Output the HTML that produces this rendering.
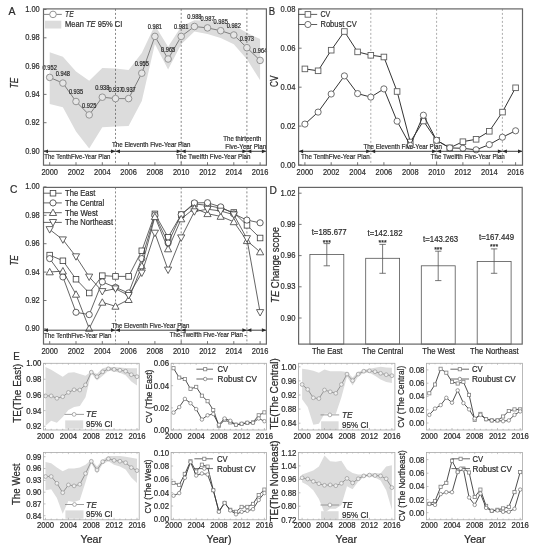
<!DOCTYPE html>
<html lang="en"><head><meta charset="utf-8"><title>Figure</title>
<style>html,body{margin:0;padding:0;background:#fff}svg{display:block}text{font-family:"Liberation Sans",Arial,Helvetica,sans-serif;fill:#2b2b2b;stroke:#2b2b2b;stroke-width:.22px}</style></head>
<body>
<svg width="535" height="550" viewBox="0 0 535 550">
<rect x="0" y="0" width="535" height="550" fill="#fff"/>
<polygon points="49.7,52.2 62.9,56.8 76.0,71.4 89.2,80.7 102.3,68.1 115.5,68.6 128.6,69.9 141.8,53.0 154.9,25.2 168.1,46.7 181.2,26.5 194.4,20.2 207.5,20.7 220.7,22.2 233.8,25.2 246.9,32.8 260.1,39.1 260.1,80.2 246.9,59.3 233.8,44.2 220.7,37.9 207.5,34.0 194.4,31.5 181.2,44.2 168.1,69.4 154.9,44.0 141.8,101.0 128.6,126.1 115.5,126.6 102.3,127.3 89.2,148.5 76.0,131.6 62.9,107.2 49.7,103.9" fill="#dcdcdc"/>
<line x1="115.5" y1="8.9" x2="115.5" y2="165.2" stroke="#555" stroke-width="0.7" stroke-dasharray="2 2"/>
<line x1="181.2" y1="8.9" x2="181.2" y2="165.2" stroke="#555" stroke-width="0.7" stroke-dasharray="2 2"/>
<line x1="246.9" y1="8.9" x2="246.9" y2="165.2" stroke="#555" stroke-width="0.7" stroke-dasharray="2 2"/>
<polyline points="49.7,77.4 62.9,83.1 76.0,101.5 89.2,114.9 102.3,97.2 115.5,98.6 128.6,98.6 141.8,73.2 154.9,36.4 168.1,59.0 181.2,36.4 194.4,26.5 207.5,27.9 220.7,30.7 233.8,35.0 246.9,47.7 260.1,60.4" fill="none" stroke="#747474" stroke-width="0.9"/>
<circle cx="49.7" cy="77.4" r="3.3" fill="#e6e6e6" stroke="#949494" stroke-width="1.0"/>
<circle cx="62.9" cy="83.1" r="3.3" fill="#e6e6e6" stroke="#949494" stroke-width="1.0"/>
<circle cx="76.0" cy="101.5" r="3.3" fill="#e6e6e6" stroke="#949494" stroke-width="1.0"/>
<circle cx="89.2" cy="114.9" r="3.3" fill="#e6e6e6" stroke="#949494" stroke-width="1.0"/>
<circle cx="102.3" cy="97.2" r="3.3" fill="#e6e6e6" stroke="#949494" stroke-width="1.0"/>
<circle cx="115.5" cy="98.6" r="3.3" fill="#e6e6e6" stroke="#949494" stroke-width="1.0"/>
<circle cx="128.6" cy="98.6" r="3.3" fill="#e6e6e6" stroke="#949494" stroke-width="1.0"/>
<circle cx="141.8" cy="73.2" r="3.3" fill="#e6e6e6" stroke="#949494" stroke-width="1.0"/>
<circle cx="154.9" cy="36.4" r="3.3" fill="#e6e6e6" stroke="#949494" stroke-width="1.0"/>
<circle cx="168.1" cy="59.0" r="3.3" fill="#e6e6e6" stroke="#949494" stroke-width="1.0"/>
<circle cx="181.2" cy="36.4" r="3.3" fill="#e6e6e6" stroke="#949494" stroke-width="1.0"/>
<circle cx="194.4" cy="26.5" r="3.3" fill="#e6e6e6" stroke="#949494" stroke-width="1.0"/>
<circle cx="207.5" cy="27.9" r="3.3" fill="#e6e6e6" stroke="#949494" stroke-width="1.0"/>
<circle cx="220.7" cy="30.7" r="3.3" fill="#e6e6e6" stroke="#949494" stroke-width="1.0"/>
<circle cx="233.8" cy="35.0" r="3.3" fill="#e6e6e6" stroke="#949494" stroke-width="1.0"/>
<circle cx="246.9" cy="47.7" r="3.3" fill="#e6e6e6" stroke="#949494" stroke-width="1.0"/>
<circle cx="260.1" cy="60.4" r="3.3" fill="#e6e6e6" stroke="#949494" stroke-width="1.0"/>
<text x="49.7" y="70.3" font-size="6.96" text-anchor="middle" textLength="14.2" lengthAdjust="spacingAndGlyphs" fill="#868686" stroke="#868686" stroke-width="0.05">0.952</text>
<text x="62.9" y="76.0" font-size="6.96" text-anchor="middle" textLength="14.2" lengthAdjust="spacingAndGlyphs" fill="#868686" stroke="#868686" stroke-width="0.05">0.948</text>
<text x="76.0" y="94.4" font-size="6.96" text-anchor="middle" textLength="14.2" lengthAdjust="spacingAndGlyphs" fill="#868686" stroke="#868686" stroke-width="0.05">0.935</text>
<text x="89.2" y="107.8" font-size="6.96" text-anchor="middle" textLength="14.2" lengthAdjust="spacingAndGlyphs" fill="#868686" stroke="#868686" stroke-width="0.05">0.925</text>
<text x="102.3" y="90.1" font-size="6.96" text-anchor="middle" textLength="14.2" lengthAdjust="spacingAndGlyphs" fill="#868686" stroke="#868686" stroke-width="0.05">0.938</text>
<text x="115.5" y="91.5" font-size="6.96" text-anchor="middle" textLength="14.2" lengthAdjust="spacingAndGlyphs" fill="#868686" stroke="#868686" stroke-width="0.05">0.937</text>
<text x="128.6" y="91.5" font-size="6.96" text-anchor="middle" textLength="14.2" lengthAdjust="spacingAndGlyphs" fill="#868686" stroke="#868686" stroke-width="0.05">0.937</text>
<text x="141.8" y="66.1" font-size="6.96" text-anchor="middle" textLength="14.2" lengthAdjust="spacingAndGlyphs" fill="#868686" stroke="#868686" stroke-width="0.05">0.955</text>
<text x="154.9" y="29.3" font-size="6.96" text-anchor="middle" textLength="14.2" lengthAdjust="spacingAndGlyphs" fill="#868686" stroke="#868686" stroke-width="0.05">0.981</text>
<text x="168.1" y="51.9" font-size="6.96" text-anchor="middle" textLength="14.2" lengthAdjust="spacingAndGlyphs" fill="#868686" stroke="#868686" stroke-width="0.05">0.965</text>
<text x="181.2" y="29.3" font-size="6.96" text-anchor="middle" textLength="14.2" lengthAdjust="spacingAndGlyphs" fill="#868686" stroke="#868686" stroke-width="0.05">0.981</text>
<text x="194.4" y="19.4" font-size="6.96" text-anchor="middle" textLength="14.2" lengthAdjust="spacingAndGlyphs" fill="#868686" stroke="#868686" stroke-width="0.05">0.988</text>
<text x="207.5" y="20.8" font-size="6.96" text-anchor="middle" textLength="14.2" lengthAdjust="spacingAndGlyphs" fill="#868686" stroke="#868686" stroke-width="0.05">0.987</text>
<text x="220.7" y="23.6" font-size="6.96" text-anchor="middle" textLength="14.2" lengthAdjust="spacingAndGlyphs" fill="#868686" stroke="#868686" stroke-width="0.05">0.985</text>
<text x="233.8" y="27.9" font-size="6.96" text-anchor="middle" textLength="14.2" lengthAdjust="spacingAndGlyphs" fill="#868686" stroke="#868686" stroke-width="0.05">0.982</text>
<text x="246.9" y="40.6" font-size="6.96" text-anchor="middle" textLength="14.2" lengthAdjust="spacingAndGlyphs" fill="#868686" stroke="#868686" stroke-width="0.05">0.973</text>
<text x="260.1" y="53.3" font-size="6.96" text-anchor="middle" textLength="14.2" lengthAdjust="spacingAndGlyphs" fill="#868686" stroke="#868686" stroke-width="0.05">0.964</text>
<line x1="43.5" y1="151.3" x2="115.5" y2="151.3" stroke="#2a2a2a" stroke-width="0.9"/>
<polygon points="43.5,151.3 48.0,149.4 48.0,153.2" fill="#2a2a2a"/>
<polygon points="115.5,151.3 111.0,149.4 111.0,153.2" fill="#2a2a2a"/>
<line x1="115.5" y1="151.3" x2="181.2" y2="151.3" stroke="#2a2a2a" stroke-width="0.9"/>
<polygon points="115.5,151.3 120.0,149.4 120.0,153.2" fill="#2a2a2a"/>
<polygon points="181.2,151.3 176.7,149.4 176.7,153.2" fill="#2a2a2a"/>
<line x1="181.2" y1="151.3" x2="246.9" y2="151.3" stroke="#2a2a2a" stroke-width="0.9"/>
<polygon points="181.2,151.3 185.7,149.4 185.7,153.2" fill="#2a2a2a"/>
<polygon points="246.9,151.3 242.4,149.4 242.4,153.2" fill="#2a2a2a"/>
<line x1="246.9" y1="151.3" x2="266.4" y2="151.3" stroke="#2a2a2a" stroke-width="0.9"/>
<polygon points="246.9,151.3 251.4,149.4 251.4,153.2" fill="#2a2a2a"/>
<polygon points="266.4,151.3 261.9,149.4 261.9,153.2" fill="#2a2a2a"/>
<text x="44.2" y="158.6" font-size="7.74" textLength="66.2" lengthAdjust="spacingAndGlyphs">The TenthFive-Year Plan</text>
<text x="112.0" y="147.2" font-size="7.74" textLength="78.5" lengthAdjust="spacingAndGlyphs">The Eleventh Five-Year Plan</text>
<text x="176.0" y="158.7" font-size="7.74" textLength="74.5" lengthAdjust="spacingAndGlyphs">The Twelfth Five-Year Plan</text>
<text x="223.3" y="141.2" font-size="7.74" textLength="38.0" lengthAdjust="spacingAndGlyphs">The thirteenth</text>
<text x="225.3" y="149.3" font-size="7.74" textLength="41.0" lengthAdjust="spacingAndGlyphs">Five-Year Plan</text>
<rect x="43.5" y="8.9" width="222.9" height="156.3" fill="none" stroke="#666666" stroke-width="1.2"/>
<line x1="43.5" y1="9.5" x2="46.5" y2="9.5" stroke="#666666" stroke-width="0.9"/>
<text x="39.8" y="12.0" font-size="9.6" text-anchor="end" textLength="14.6" lengthAdjust="spacingAndGlyphs">1.00</text>
<line x1="43.5" y1="37.8" x2="46.5" y2="37.8" stroke="#666666" stroke-width="0.9"/>
<text x="39.8" y="40.3" font-size="9.6" text-anchor="end" textLength="14.6" lengthAdjust="spacingAndGlyphs">0.98</text>
<line x1="43.5" y1="66.1" x2="46.5" y2="66.1" stroke="#666666" stroke-width="0.9"/>
<text x="39.8" y="68.6" font-size="9.6" text-anchor="end" textLength="14.6" lengthAdjust="spacingAndGlyphs">0.96</text>
<line x1="43.5" y1="94.4" x2="46.5" y2="94.4" stroke="#666666" stroke-width="0.9"/>
<text x="39.8" y="96.9" font-size="9.6" text-anchor="end" textLength="14.6" lengthAdjust="spacingAndGlyphs">0.94</text>
<line x1="43.5" y1="122.7" x2="46.5" y2="122.7" stroke="#666666" stroke-width="0.9"/>
<text x="39.8" y="125.2" font-size="9.6" text-anchor="end" textLength="14.6" lengthAdjust="spacingAndGlyphs">0.92</text>
<line x1="43.5" y1="151.0" x2="46.5" y2="151.0" stroke="#666666" stroke-width="0.9"/>
<text x="39.8" y="153.5" font-size="9.6" text-anchor="end" textLength="14.6" lengthAdjust="spacingAndGlyphs">0.90</text>
<line x1="49.7" y1="165.2" x2="49.7" y2="162.2" stroke="#666666" stroke-width="0.9"/>
<text x="49.7" y="174.7" font-size="9.6" text-anchor="middle" textLength="16.6" lengthAdjust="spacingAndGlyphs">2000</text>
<line x1="76.0" y1="165.2" x2="76.0" y2="162.2" stroke="#666666" stroke-width="0.9"/>
<text x="76.0" y="174.7" font-size="9.6" text-anchor="middle" textLength="16.6" lengthAdjust="spacingAndGlyphs">2002</text>
<line x1="102.3" y1="165.2" x2="102.3" y2="162.2" stroke="#666666" stroke-width="0.9"/>
<text x="102.3" y="174.7" font-size="9.6" text-anchor="middle" textLength="16.6" lengthAdjust="spacingAndGlyphs">2004</text>
<line x1="128.6" y1="165.2" x2="128.6" y2="162.2" stroke="#666666" stroke-width="0.9"/>
<text x="128.6" y="174.7" font-size="9.6" text-anchor="middle" textLength="16.6" lengthAdjust="spacingAndGlyphs">2006</text>
<line x1="154.9" y1="165.2" x2="154.9" y2="162.2" stroke="#666666" stroke-width="0.9"/>
<text x="154.9" y="174.7" font-size="9.6" text-anchor="middle" textLength="16.6" lengthAdjust="spacingAndGlyphs">2008</text>
<line x1="181.2" y1="165.2" x2="181.2" y2="162.2" stroke="#666666" stroke-width="0.9"/>
<text x="181.2" y="174.7" font-size="9.6" text-anchor="middle" textLength="16.6" lengthAdjust="spacingAndGlyphs">2010</text>
<line x1="207.5" y1="165.2" x2="207.5" y2="162.2" stroke="#666666" stroke-width="0.9"/>
<text x="207.5" y="174.7" font-size="9.6" text-anchor="middle" textLength="16.6" lengthAdjust="spacingAndGlyphs">2012</text>
<line x1="233.8" y1="165.2" x2="233.8" y2="162.2" stroke="#666666" stroke-width="0.9"/>
<text x="233.8" y="174.7" font-size="9.6" text-anchor="middle" textLength="16.6" lengthAdjust="spacingAndGlyphs">2014</text>
<line x1="260.1" y1="165.2" x2="260.1" y2="162.2" stroke="#666666" stroke-width="0.9"/>
<text x="260.1" y="174.7" font-size="9.6" text-anchor="middle" textLength="16.6" lengthAdjust="spacingAndGlyphs">2016</text>
<line x1="43.4" y1="14.4" x2="61.8" y2="14.4" stroke="#747474" stroke-width="0.9"/>
<circle cx="53.0" cy="14.4" r="3.3" fill="#fff" stroke="#949494" stroke-width="1.0"/>
<text x="65.1" y="17.3" font-size="9.6" textLength="8.6" lengthAdjust="spacingAndGlyphs" font-style="italic">TE</text>
<rect x="44.9" y="20.7" width="16.4" height="7.8" fill="#dcdcdc"/>
<text x="65.1" y="27.4" font-size="9.6" textLength="57.3" lengthAdjust="spacingAndGlyphs">Mean <tspan font-style="italic">TE</tspan> 95% CI</text>
<text x="8.4" y="14.5" font-size="11.76" textLength="7.0" lengthAdjust="spacingAndGlyphs" stroke-width="0.4">A</text>
<text x="18.3" y="83.0" font-size="11.04" text-anchor="middle" textLength="10.4" lengthAdjust="spacingAndGlyphs" font-style="italic" transform="rotate(-90 18.3 83.0)">TE</text>
<line x1="370.8" y1="8.9" x2="370.8" y2="165.2" stroke="#8a8a8a" stroke-width="0.7" stroke-dasharray="2 2"/>
<line x1="436.6" y1="8.9" x2="436.6" y2="165.2" stroke="#8a8a8a" stroke-width="0.7" stroke-dasharray="2 2"/>
<line x1="502.4" y1="8.9" x2="502.4" y2="165.2" stroke="#8a8a8a" stroke-width="0.7" stroke-dasharray="2 2"/>
<polyline points="304.9,68.9 318.1,70.8 331.2,50.2 344.4,31.5 357.6,51.9 370.8,55.2 383.9,57.0 397.1,91.4 410.3,142.0 423.4,121.0 436.6,140.3 449.8,147.9 462.9,141.6 476.1,139.3 489.3,131.3 502.4,112.1 515.6,87.7" fill="none" stroke="#333" stroke-width="1.0"/>
<rect x="302.1" y="66.1" width="5.6" height="5.6" fill="#fff" stroke="#5e5e5e" stroke-width="0.9"/>
<rect x="315.3" y="68.0" width="5.6" height="5.6" fill="#fff" stroke="#5e5e5e" stroke-width="0.9"/>
<rect x="328.4" y="47.4" width="5.6" height="5.6" fill="#fff" stroke="#5e5e5e" stroke-width="0.9"/>
<rect x="341.6" y="28.7" width="5.6" height="5.6" fill="#fff" stroke="#5e5e5e" stroke-width="0.9"/>
<rect x="354.8" y="49.1" width="5.6" height="5.6" fill="#fff" stroke="#5e5e5e" stroke-width="0.9"/>
<rect x="368.0" y="52.5" width="5.6" height="5.6" fill="#fff" stroke="#5e5e5e" stroke-width="0.9"/>
<rect x="381.1" y="54.2" width="5.6" height="5.6" fill="#fff" stroke="#5e5e5e" stroke-width="0.9"/>
<rect x="394.3" y="88.7" width="5.6" height="5.6" fill="#fff" stroke="#5e5e5e" stroke-width="0.9"/>
<rect x="407.5" y="139.2" width="5.6" height="5.6" fill="#fff" stroke="#5e5e5e" stroke-width="0.9"/>
<rect x="420.6" y="118.2" width="5.6" height="5.6" fill="#fff" stroke="#5e5e5e" stroke-width="0.9"/>
<rect x="433.8" y="137.5" width="5.6" height="5.6" fill="#fff" stroke="#5e5e5e" stroke-width="0.9"/>
<rect x="447.0" y="145.1" width="5.6" height="5.6" fill="#fff" stroke="#5e5e5e" stroke-width="0.9"/>
<rect x="460.1" y="138.9" width="5.6" height="5.6" fill="#fff" stroke="#5e5e5e" stroke-width="0.9"/>
<rect x="473.3" y="136.5" width="5.6" height="5.6" fill="#fff" stroke="#5e5e5e" stroke-width="0.9"/>
<rect x="486.5" y="128.5" width="5.6" height="5.6" fill="#fff" stroke="#5e5e5e" stroke-width="0.9"/>
<rect x="499.7" y="109.3" width="5.6" height="5.6" fill="#fff" stroke="#5e5e5e" stroke-width="0.9"/>
<rect x="512.8" y="85.0" width="5.6" height="5.6" fill="#fff" stroke="#5e5e5e" stroke-width="0.9"/>
<polyline points="304.9,124.1 318.1,112.1 331.2,94.0 344.4,75.9 357.6,93.6 370.8,97.1 383.9,88.9 397.1,121.2 410.3,145.5 423.4,115.2 436.6,140.3 449.8,147.9 462.9,148.3 476.1,149.8 489.3,144.6 502.4,137.2 515.6,130.8" fill="none" stroke="#333" stroke-width="1.0"/>
<circle cx="304.9" cy="124.1" r="3.1" fill="#fff" stroke="#5e5e5e" stroke-width="0.9"/>
<circle cx="318.1" cy="112.1" r="3.1" fill="#fff" stroke="#5e5e5e" stroke-width="0.9"/>
<circle cx="331.2" cy="94.0" r="3.1" fill="#fff" stroke="#5e5e5e" stroke-width="0.9"/>
<circle cx="344.4" cy="75.9" r="3.1" fill="#fff" stroke="#5e5e5e" stroke-width="0.9"/>
<circle cx="357.6" cy="93.6" r="3.1" fill="#fff" stroke="#5e5e5e" stroke-width="0.9"/>
<circle cx="370.8" cy="97.1" r="3.1" fill="#fff" stroke="#5e5e5e" stroke-width="0.9"/>
<circle cx="383.9" cy="88.9" r="3.1" fill="#fff" stroke="#5e5e5e" stroke-width="0.9"/>
<circle cx="397.1" cy="121.2" r="3.1" fill="#fff" stroke="#5e5e5e" stroke-width="0.9"/>
<circle cx="410.3" cy="145.5" r="3.1" fill="#fff" stroke="#5e5e5e" stroke-width="0.9"/>
<circle cx="423.4" cy="115.2" r="3.1" fill="#fff" stroke="#5e5e5e" stroke-width="0.9"/>
<circle cx="436.6" cy="140.3" r="3.1" fill="#fff" stroke="#5e5e5e" stroke-width="0.9"/>
<circle cx="449.8" cy="147.9" r="3.1" fill="#fff" stroke="#5e5e5e" stroke-width="0.9"/>
<circle cx="462.9" cy="148.3" r="3.1" fill="#fff" stroke="#5e5e5e" stroke-width="0.9"/>
<circle cx="476.1" cy="149.8" r="3.1" fill="#fff" stroke="#5e5e5e" stroke-width="0.9"/>
<circle cx="489.3" cy="144.6" r="3.1" fill="#fff" stroke="#5e5e5e" stroke-width="0.9"/>
<circle cx="502.4" cy="137.2" r="3.1" fill="#fff" stroke="#5e5e5e" stroke-width="0.9"/>
<circle cx="515.6" cy="130.8" r="3.1" fill="#fff" stroke="#5e5e5e" stroke-width="0.9"/>
<line x1="298.6" y1="151.3" x2="370.8" y2="151.3" stroke="#2a2a2a" stroke-width="0.9"/>
<polygon points="298.6,151.3 303.1,149.4 303.1,153.2" fill="#2a2a2a"/>
<polygon points="370.8,151.3 366.2,149.4 366.2,153.2" fill="#2a2a2a"/>
<line x1="370.8" y1="151.3" x2="436.6" y2="151.3" stroke="#2a2a2a" stroke-width="0.9"/>
<polygon points="370.8,151.3 375.2,149.4 375.2,153.2" fill="#2a2a2a"/>
<polygon points="436.6,151.3 432.1,149.4 432.1,153.2" fill="#2a2a2a"/>
<line x1="436.6" y1="151.3" x2="502.4" y2="151.3" stroke="#2a2a2a" stroke-width="0.9"/>
<polygon points="436.6,151.3 441.1,149.4 441.1,153.2" fill="#2a2a2a"/>
<polygon points="502.4,151.3 497.9,149.4 497.9,153.2" fill="#2a2a2a"/>
<line x1="502.4" y1="151.3" x2="522.5" y2="151.3" stroke="#2a2a2a" stroke-width="0.9"/>
<polygon points="502.4,151.3 506.9,149.4 506.9,153.2" fill="#2a2a2a"/>
<polygon points="522.5,151.3 518.0,149.4 518.0,153.2" fill="#2a2a2a"/>
<text x="301.1" y="159.0" font-size="7.74" textLength="68.6" lengthAdjust="spacingAndGlyphs">The TenthFive-Year Plan</text>
<text x="363.4" y="148.6" font-size="7.74" textLength="78.6" lengthAdjust="spacingAndGlyphs">The Eleventh Five-Year Plan</text>
<text x="430.8" y="158.7" font-size="7.74" textLength="74.0" lengthAdjust="spacingAndGlyphs">The Twelfth Five-Year Plan</text>
<rect x="298.6" y="8.9" width="223.9" height="156.3" fill="none" stroke="#666666" stroke-width="1.2"/>
<line x1="298.6" y1="9.3" x2="301.6" y2="9.3" stroke="#666666" stroke-width="0.9"/>
<text x="295.4" y="11.8" font-size="9.6" text-anchor="end" textLength="14.8" lengthAdjust="spacingAndGlyphs">0.08</text>
<line x1="298.6" y1="48.2" x2="301.6" y2="48.2" stroke="#666666" stroke-width="0.9"/>
<text x="295.4" y="50.7" font-size="9.6" text-anchor="end" textLength="14.8" lengthAdjust="spacingAndGlyphs">0.06</text>
<line x1="298.6" y1="87.2" x2="301.6" y2="87.2" stroke="#666666" stroke-width="0.9"/>
<text x="295.4" y="89.7" font-size="9.6" text-anchor="end" textLength="14.8" lengthAdjust="spacingAndGlyphs">0.04</text>
<line x1="298.6" y1="126.1" x2="301.6" y2="126.1" stroke="#666666" stroke-width="0.9"/>
<text x="295.4" y="128.6" font-size="9.6" text-anchor="end" textLength="14.8" lengthAdjust="spacingAndGlyphs">0.02</text>
<line x1="298.6" y1="165.0" x2="301.6" y2="165.0" stroke="#666666" stroke-width="0.9"/>
<text x="295.4" y="167.5" font-size="9.6" text-anchor="end" textLength="14.8" lengthAdjust="spacingAndGlyphs">0.00</text>
<line x1="304.9" y1="165.2" x2="304.9" y2="162.2" stroke="#666666" stroke-width="0.9"/>
<text x="304.9" y="174.7" font-size="9.6" text-anchor="middle" textLength="16.6" lengthAdjust="spacingAndGlyphs">2000</text>
<line x1="331.2" y1="165.2" x2="331.2" y2="162.2" stroke="#666666" stroke-width="0.9"/>
<text x="331.2" y="174.7" font-size="9.6" text-anchor="middle" textLength="16.6" lengthAdjust="spacingAndGlyphs">2002</text>
<line x1="357.6" y1="165.2" x2="357.6" y2="162.2" stroke="#666666" stroke-width="0.9"/>
<text x="357.6" y="174.7" font-size="9.6" text-anchor="middle" textLength="16.6" lengthAdjust="spacingAndGlyphs">2004</text>
<line x1="383.9" y1="165.2" x2="383.9" y2="162.2" stroke="#666666" stroke-width="0.9"/>
<text x="383.9" y="174.7" font-size="9.6" text-anchor="middle" textLength="16.6" lengthAdjust="spacingAndGlyphs">2006</text>
<line x1="410.3" y1="165.2" x2="410.3" y2="162.2" stroke="#666666" stroke-width="0.9"/>
<text x="410.3" y="174.7" font-size="9.6" text-anchor="middle" textLength="16.6" lengthAdjust="spacingAndGlyphs">2008</text>
<line x1="436.6" y1="165.2" x2="436.6" y2="162.2" stroke="#666666" stroke-width="0.9"/>
<text x="436.6" y="174.7" font-size="9.6" text-anchor="middle" textLength="16.6" lengthAdjust="spacingAndGlyphs">2010</text>
<line x1="462.9" y1="165.2" x2="462.9" y2="162.2" stroke="#666666" stroke-width="0.9"/>
<text x="462.9" y="174.7" font-size="9.6" text-anchor="middle" textLength="16.6" lengthAdjust="spacingAndGlyphs">2012</text>
<line x1="489.3" y1="165.2" x2="489.3" y2="162.2" stroke="#666666" stroke-width="0.9"/>
<text x="489.3" y="174.7" font-size="9.6" text-anchor="middle" textLength="16.6" lengthAdjust="spacingAndGlyphs">2014</text>
<line x1="515.6" y1="165.2" x2="515.6" y2="162.2" stroke="#666666" stroke-width="0.9"/>
<text x="515.6" y="174.7" font-size="9.6" text-anchor="middle" textLength="16.6" lengthAdjust="spacingAndGlyphs">2016</text>
<line x1="298.6" y1="14.4" x2="317.2" y2="14.4" stroke="#333" stroke-width="0.8"/>
<rect x="305.1" y="11.6" width="5.6" height="5.6" fill="#fff" stroke="#5e5e5e" stroke-width="0.9"/>
<text x="320.5" y="17.3" font-size="9.6" textLength="9.8" lengthAdjust="spacingAndGlyphs">CV</text>
<line x1="298.6" y1="24.5" x2="317.2" y2="24.5" stroke="#333" stroke-width="0.8"/>
<circle cx="307.9" cy="24.5" r="3.1" fill="#fff" stroke="#5e5e5e" stroke-width="0.9"/>
<text x="320.5" y="27.4" font-size="9.6" textLength="36.2" lengthAdjust="spacingAndGlyphs">Robust CV</text>
<text x="268.8" y="14.5" font-size="11.76" textLength="6.4" lengthAdjust="spacingAndGlyphs" stroke-width="0.4">B</text>
<text x="278.4" y="81.3" font-size="10.08" text-anchor="middle" textLength="11.5" lengthAdjust="spacingAndGlyphs" transform="rotate(-90 278.4 81.3)">CV</text>
<line x1="115.5" y1="187.4" x2="115.5" y2="344.1" stroke="#555" stroke-width="0.7" stroke-dasharray="2 2"/>
<line x1="181.2" y1="187.4" x2="181.2" y2="344.1" stroke="#555" stroke-width="0.7" stroke-dasharray="2 2"/>
<line x1="246.9" y1="187.4" x2="246.9" y2="344.1" stroke="#555" stroke-width="0.7" stroke-dasharray="2 2"/>
<polyline points="49.7,255.1 62.9,260.7 76.0,279.2 89.2,293.0 102.3,275.6 115.5,276.4 128.6,276.4 141.8,250.8 154.9,213.9 168.1,237.3 181.2,214.6 194.4,203.9 207.5,205.4 220.7,208.2 233.8,212.5 246.9,225.2 260.1,238.0" fill="none" stroke="#3d3d3d" stroke-width="0.8"/>
<rect x="46.9" y="252.3" width="5.6" height="5.6" fill="#fff" stroke="#3d3d3d" stroke-width="0.8"/>
<rect x="60.1" y="258.0" width="5.6" height="5.6" fill="#fff" stroke="#3d3d3d" stroke-width="0.8"/>
<rect x="73.2" y="276.4" width="5.6" height="5.6" fill="#fff" stroke="#3d3d3d" stroke-width="0.8"/>
<rect x="86.4" y="290.2" width="5.6" height="5.6" fill="#fff" stroke="#3d3d3d" stroke-width="0.8"/>
<rect x="99.5" y="272.9" width="5.6" height="5.6" fill="#fff" stroke="#3d3d3d" stroke-width="0.8"/>
<rect x="112.7" y="273.6" width="5.6" height="5.6" fill="#fff" stroke="#3d3d3d" stroke-width="0.8"/>
<rect x="125.8" y="273.6" width="5.6" height="5.6" fill="#fff" stroke="#3d3d3d" stroke-width="0.8"/>
<rect x="139.0" y="248.0" width="5.6" height="5.6" fill="#fff" stroke="#3d3d3d" stroke-width="0.8"/>
<rect x="152.1" y="211.1" width="5.6" height="5.6" fill="#fff" stroke="#3d3d3d" stroke-width="0.8"/>
<rect x="165.3" y="234.5" width="5.6" height="5.6" fill="#fff" stroke="#3d3d3d" stroke-width="0.8"/>
<rect x="178.4" y="211.8" width="5.6" height="5.6" fill="#fff" stroke="#3d3d3d" stroke-width="0.8"/>
<rect x="191.6" y="201.2" width="5.6" height="5.6" fill="#fff" stroke="#3d3d3d" stroke-width="0.8"/>
<rect x="204.7" y="202.6" width="5.6" height="5.6" fill="#fff" stroke="#3d3d3d" stroke-width="0.8"/>
<rect x="217.9" y="205.4" width="5.6" height="5.6" fill="#fff" stroke="#3d3d3d" stroke-width="0.8"/>
<rect x="231.0" y="209.7" width="5.6" height="5.6" fill="#fff" stroke="#3d3d3d" stroke-width="0.8"/>
<rect x="244.2" y="222.5" width="5.6" height="5.6" fill="#fff" stroke="#3d3d3d" stroke-width="0.8"/>
<rect x="257.3" y="235.2" width="5.6" height="5.6" fill="#fff" stroke="#3d3d3d" stroke-width="0.8"/>
<polyline points="49.7,258.6 62.9,276.9 76.0,312.3 89.2,314.6 102.3,281.9 115.5,287.4 128.6,293.0 141.8,258.6 154.9,215.3 168.1,243.0 181.2,214.6 194.4,202.9 207.5,202.7 220.7,206.9 233.8,213.9 246.9,220.1 260.1,222.8" fill="none" stroke="#3d3d3d" stroke-width="0.8"/>
<circle cx="49.7" cy="258.6" r="3.1" fill="#fff" stroke="#3d3d3d" stroke-width="0.8"/>
<circle cx="62.9" cy="276.9" r="3.1" fill="#fff" stroke="#3d3d3d" stroke-width="0.8"/>
<circle cx="76.0" cy="312.3" r="3.1" fill="#fff" stroke="#3d3d3d" stroke-width="0.8"/>
<circle cx="89.2" cy="314.6" r="3.1" fill="#fff" stroke="#3d3d3d" stroke-width="0.8"/>
<circle cx="102.3" cy="281.9" r="3.1" fill="#fff" stroke="#3d3d3d" stroke-width="0.8"/>
<circle cx="115.5" cy="287.4" r="3.1" fill="#fff" stroke="#3d3d3d" stroke-width="0.8"/>
<circle cx="128.6" cy="293.0" r="3.1" fill="#fff" stroke="#3d3d3d" stroke-width="0.8"/>
<circle cx="141.8" cy="258.6" r="3.1" fill="#fff" stroke="#3d3d3d" stroke-width="0.8"/>
<circle cx="154.9" cy="215.3" r="3.1" fill="#fff" stroke="#3d3d3d" stroke-width="0.8"/>
<circle cx="168.1" cy="243.0" r="3.1" fill="#fff" stroke="#3d3d3d" stroke-width="0.8"/>
<circle cx="181.2" cy="214.6" r="3.1" fill="#fff" stroke="#3d3d3d" stroke-width="0.8"/>
<circle cx="194.4" cy="202.9" r="3.1" fill="#fff" stroke="#3d3d3d" stroke-width="0.8"/>
<circle cx="207.5" cy="202.7" r="3.1" fill="#fff" stroke="#3d3d3d" stroke-width="0.8"/>
<circle cx="220.7" cy="206.9" r="3.1" fill="#fff" stroke="#3d3d3d" stroke-width="0.8"/>
<circle cx="233.8" cy="213.9" r="3.1" fill="#fff" stroke="#3d3d3d" stroke-width="0.8"/>
<circle cx="246.9" cy="220.1" r="3.1" fill="#fff" stroke="#3d3d3d" stroke-width="0.8"/>
<circle cx="260.1" cy="222.8" r="3.1" fill="#fff" stroke="#3d3d3d" stroke-width="0.8"/>
<polyline points="49.7,272.0 62.9,271.1 76.0,294.4 89.2,328.5 102.3,302.3 115.5,306.3 128.6,299.6 141.8,266.0 154.9,216.7 168.1,249.0 181.2,219.0 194.4,208.2 207.5,213.7 220.7,216.4 233.8,221.8 246.9,240.7 260.1,251.9" fill="none" stroke="#3d3d3d" stroke-width="0.8"/>
<polygon points="49.7,268.4 46.1,274.8 53.3,274.8" fill="#fff" stroke="#3d3d3d" stroke-width="0.8"/>
<polygon points="62.9,267.5 59.3,274.0 66.4,274.0" fill="#fff" stroke="#3d3d3d" stroke-width="0.8"/>
<polygon points="76.0,290.8 72.4,297.2 79.6,297.2" fill="#fff" stroke="#3d3d3d" stroke-width="0.8"/>
<polygon points="89.2,324.9 85.6,331.3 92.7,331.3" fill="#fff" stroke="#3d3d3d" stroke-width="0.8"/>
<polygon points="102.3,298.8 98.7,305.2 105.9,305.2" fill="#fff" stroke="#3d3d3d" stroke-width="0.8"/>
<polygon points="115.5,302.8 111.9,309.2 119.0,309.2" fill="#fff" stroke="#3d3d3d" stroke-width="0.8"/>
<polygon points="128.6,296.1 125.0,302.5 132.2,302.5" fill="#fff" stroke="#3d3d3d" stroke-width="0.8"/>
<polygon points="141.8,262.4 138.2,268.8 145.3,268.8" fill="#fff" stroke="#3d3d3d" stroke-width="0.8"/>
<polygon points="154.9,213.2 151.3,219.6 158.5,219.6" fill="#fff" stroke="#3d3d3d" stroke-width="0.8"/>
<polygon points="168.1,245.4 164.5,251.8 171.6,251.8" fill="#fff" stroke="#3d3d3d" stroke-width="0.8"/>
<polygon points="181.2,215.4 177.6,221.8 184.8,221.8" fill="#fff" stroke="#3d3d3d" stroke-width="0.8"/>
<polygon points="194.4,204.6 190.8,211.1 197.9,211.1" fill="#fff" stroke="#3d3d3d" stroke-width="0.8"/>
<polygon points="207.5,210.2 203.9,216.6 211.1,216.6" fill="#fff" stroke="#3d3d3d" stroke-width="0.8"/>
<polygon points="220.7,212.9 217.1,219.3 224.2,219.3" fill="#fff" stroke="#3d3d3d" stroke-width="0.8"/>
<polygon points="233.8,218.3 230.2,224.7 237.4,224.7" fill="#fff" stroke="#3d3d3d" stroke-width="0.8"/>
<polygon points="246.9,237.2 243.4,243.6 250.5,243.6" fill="#fff" stroke="#3d3d3d" stroke-width="0.8"/>
<polygon points="260.1,248.4 256.5,254.8 263.7,254.8" fill="#fff" stroke="#3d3d3d" stroke-width="0.8"/>
<polyline points="49.7,229.5 62.9,239.7 76.0,256.6 89.2,276.9 102.3,291.4 115.5,288.7 128.6,295.4 141.8,273.0 154.9,233.0 168.1,270.0 181.2,237.7 194.4,211.6 207.5,209.2 220.7,211.0 233.8,214.7 246.9,238.6 260.1,312.4" fill="none" stroke="#3d3d3d" stroke-width="0.8"/>
<polygon points="49.7,233.1 46.1,226.6 53.3,226.6" fill="#fff" stroke="#3d3d3d" stroke-width="0.8"/>
<polygon points="62.9,243.3 59.3,236.9 66.4,236.9" fill="#fff" stroke="#3d3d3d" stroke-width="0.8"/>
<polygon points="76.0,260.2 72.4,253.8 79.6,253.8" fill="#fff" stroke="#3d3d3d" stroke-width="0.8"/>
<polygon points="89.2,280.5 85.6,274.1 92.7,274.1" fill="#fff" stroke="#3d3d3d" stroke-width="0.8"/>
<polygon points="102.3,295.0 98.7,288.6 105.9,288.6" fill="#fff" stroke="#3d3d3d" stroke-width="0.8"/>
<polygon points="115.5,292.3 111.9,285.9 119.0,285.9" fill="#fff" stroke="#3d3d3d" stroke-width="0.8"/>
<polygon points="128.6,299.0 125.0,292.5 132.2,292.5" fill="#fff" stroke="#3d3d3d" stroke-width="0.8"/>
<polygon points="141.8,276.5 138.2,270.1 145.3,270.1" fill="#fff" stroke="#3d3d3d" stroke-width="0.8"/>
<polygon points="154.9,236.6 151.3,230.2 158.5,230.2" fill="#fff" stroke="#3d3d3d" stroke-width="0.8"/>
<polygon points="168.1,273.5 164.5,267.1 171.6,267.1" fill="#fff" stroke="#3d3d3d" stroke-width="0.8"/>
<polygon points="181.2,241.3 177.6,234.9 184.8,234.9" fill="#fff" stroke="#3d3d3d" stroke-width="0.8"/>
<polygon points="194.4,215.2 190.8,208.8 197.9,208.8" fill="#fff" stroke="#3d3d3d" stroke-width="0.8"/>
<polygon points="207.5,212.8 203.9,206.3 211.1,206.3" fill="#fff" stroke="#3d3d3d" stroke-width="0.8"/>
<polygon points="220.7,214.6 217.1,208.2 224.2,208.2" fill="#fff" stroke="#3d3d3d" stroke-width="0.8"/>
<polygon points="233.8,218.3 230.2,211.9 237.4,211.9" fill="#fff" stroke="#3d3d3d" stroke-width="0.8"/>
<polygon points="246.9,242.2 243.4,235.7 250.5,235.7" fill="#fff" stroke="#3d3d3d" stroke-width="0.8"/>
<polygon points="260.1,316.0 256.5,309.6 263.7,309.6" fill="#fff" stroke="#3d3d3d" stroke-width="0.8"/>
<line x1="43.5" y1="330.2" x2="115.5" y2="330.2" stroke="#2a2a2a" stroke-width="0.9"/>
<polygon points="43.5,330.2 48.0,328.3 48.0,332.1" fill="#2a2a2a"/>
<polygon points="115.5,330.2 111.0,328.3 111.0,332.1" fill="#2a2a2a"/>
<line x1="115.5" y1="330.2" x2="181.2" y2="330.2" stroke="#2a2a2a" stroke-width="0.9"/>
<polygon points="115.5,330.2 120.0,328.3 120.0,332.1" fill="#2a2a2a"/>
<polygon points="181.2,330.2 176.7,328.3 176.7,332.1" fill="#2a2a2a"/>
<line x1="181.2" y1="330.2" x2="246.9" y2="330.2" stroke="#2a2a2a" stroke-width="0.9"/>
<polygon points="181.2,330.2 185.7,328.3 185.7,332.1" fill="#2a2a2a"/>
<polygon points="246.9,330.2 242.4,328.3 242.4,332.1" fill="#2a2a2a"/>
<line x1="246.9" y1="330.2" x2="266.4" y2="330.2" stroke="#2a2a2a" stroke-width="0.9"/>
<polygon points="246.9,330.2 251.4,328.3 251.4,332.1" fill="#2a2a2a"/>
<polygon points="266.4,330.2 261.9,328.3 261.9,332.1" fill="#2a2a2a"/>
<text x="44.0" y="338.0" font-size="7.74" textLength="67.4" lengthAdjust="spacingAndGlyphs">The TenthFive-Year Plan</text>
<text x="111.8" y="328.4" font-size="7.74" textLength="77.6" lengthAdjust="spacingAndGlyphs">The Eleventh Five-Year Plan</text>
<text x="169.8" y="337.4" font-size="7.74" textLength="76.8" lengthAdjust="spacingAndGlyphs">The-Twelfth Five-Year Plan -</text>
<rect x="43.5" y="187.4" width="222.9" height="156.7" fill="none" stroke="#666666" stroke-width="1.2"/>
<line x1="43.5" y1="186.9" x2="46.5" y2="186.9" stroke="#666666" stroke-width="0.9"/>
<text x="39.8" y="189.4" font-size="9.6" text-anchor="end" textLength="14.6" lengthAdjust="spacingAndGlyphs">1.00</text>
<line x1="43.5" y1="215.3" x2="46.5" y2="215.3" stroke="#666666" stroke-width="0.9"/>
<text x="39.8" y="217.8" font-size="9.6" text-anchor="end" textLength="14.6" lengthAdjust="spacingAndGlyphs">0.98</text>
<line x1="43.5" y1="243.7" x2="46.5" y2="243.7" stroke="#666666" stroke-width="0.9"/>
<text x="39.8" y="246.2" font-size="9.6" text-anchor="end" textLength="14.6" lengthAdjust="spacingAndGlyphs">0.96</text>
<line x1="43.5" y1="272.1" x2="46.5" y2="272.1" stroke="#666666" stroke-width="0.9"/>
<text x="39.8" y="274.6" font-size="9.6" text-anchor="end" textLength="14.6" lengthAdjust="spacingAndGlyphs">0.94</text>
<line x1="43.5" y1="300.5" x2="46.5" y2="300.5" stroke="#666666" stroke-width="0.9"/>
<text x="39.8" y="303.0" font-size="9.6" text-anchor="end" textLength="14.6" lengthAdjust="spacingAndGlyphs">0.92</text>
<line x1="43.5" y1="328.9" x2="46.5" y2="328.9" stroke="#666666" stroke-width="0.9"/>
<text x="39.8" y="331.4" font-size="9.6" text-anchor="end" textLength="14.6" lengthAdjust="spacingAndGlyphs">0.90</text>
<line x1="49.7" y1="344.1" x2="49.7" y2="341.1" stroke="#666666" stroke-width="0.9"/>
<text x="49.7" y="353.7" font-size="9.6" text-anchor="middle" textLength="16.6" lengthAdjust="spacingAndGlyphs">2000</text>
<line x1="76.0" y1="344.1" x2="76.0" y2="341.1" stroke="#666666" stroke-width="0.9"/>
<text x="76.0" y="353.7" font-size="9.6" text-anchor="middle" textLength="16.6" lengthAdjust="spacingAndGlyphs">2002</text>
<line x1="102.3" y1="344.1" x2="102.3" y2="341.1" stroke="#666666" stroke-width="0.9"/>
<text x="102.3" y="353.7" font-size="9.6" text-anchor="middle" textLength="16.6" lengthAdjust="spacingAndGlyphs">2004</text>
<line x1="128.6" y1="344.1" x2="128.6" y2="341.1" stroke="#666666" stroke-width="0.9"/>
<text x="128.6" y="353.7" font-size="9.6" text-anchor="middle" textLength="16.6" lengthAdjust="spacingAndGlyphs">2006</text>
<line x1="154.9" y1="344.1" x2="154.9" y2="341.1" stroke="#666666" stroke-width="0.9"/>
<text x="154.9" y="353.7" font-size="9.6" text-anchor="middle" textLength="16.6" lengthAdjust="spacingAndGlyphs">2008</text>
<line x1="181.2" y1="344.1" x2="181.2" y2="341.1" stroke="#666666" stroke-width="0.9"/>
<text x="181.2" y="353.7" font-size="9.6" text-anchor="middle" textLength="16.6" lengthAdjust="spacingAndGlyphs">2010</text>
<line x1="207.5" y1="344.1" x2="207.5" y2="341.1" stroke="#666666" stroke-width="0.9"/>
<text x="207.5" y="353.7" font-size="9.6" text-anchor="middle" textLength="16.6" lengthAdjust="spacingAndGlyphs">2012</text>
<line x1="233.8" y1="344.1" x2="233.8" y2="341.1" stroke="#666666" stroke-width="0.9"/>
<text x="233.8" y="353.7" font-size="9.6" text-anchor="middle" textLength="16.6" lengthAdjust="spacingAndGlyphs">2014</text>
<line x1="260.1" y1="344.1" x2="260.1" y2="341.1" stroke="#666666" stroke-width="0.9"/>
<text x="260.1" y="353.7" font-size="9.6" text-anchor="middle" textLength="16.6" lengthAdjust="spacingAndGlyphs">2016</text>
<line x1="43.4" y1="193.2" x2="61.8" y2="193.2" stroke="#3d3d3d" stroke-width="0.8"/>
<rect x="50.2" y="190.4" width="5.6" height="5.6" fill="#fff" stroke="#3d3d3d" stroke-width="0.8"/>
<text x="65.1" y="196.1" font-size="9.6" textLength="30.3" lengthAdjust="spacingAndGlyphs">The East</text>
<line x1="43.4" y1="202.9" x2="61.8" y2="202.9" stroke="#3d3d3d" stroke-width="0.8"/>
<circle cx="53.0" cy="202.9" r="3.1" fill="#fff" stroke="#3d3d3d" stroke-width="0.8"/>
<text x="65.1" y="205.8" font-size="9.6" textLength="39.1" lengthAdjust="spacingAndGlyphs">The Central</text>
<line x1="43.4" y1="212.7" x2="61.8" y2="212.7" stroke="#3d3d3d" stroke-width="0.8"/>
<polygon points="53.0,209.1 49.4,215.5 56.6,215.5" fill="#fff" stroke="#3d3d3d" stroke-width="0.8"/>
<text x="65.1" y="215.6" font-size="9.6" textLength="32.8" lengthAdjust="spacingAndGlyphs">The West</text>
<line x1="43.4" y1="222.4" x2="61.8" y2="222.4" stroke="#3d3d3d" stroke-width="0.8"/>
<polygon points="53.0,226.0 49.4,219.5 56.6,219.5" fill="#fff" stroke="#3d3d3d" stroke-width="0.8"/>
<text x="65.1" y="225.3" font-size="9.6" textLength="47.9" lengthAdjust="spacingAndGlyphs">The Northeast</text>
<text x="9.9" y="193.2" font-size="11.76" textLength="7.4" lengthAdjust="spacingAndGlyphs" stroke-width="0.4">C</text>
<text x="18.3" y="260.4" font-size="11.04" text-anchor="middle" textLength="10.4" lengthAdjust="spacingAndGlyphs" font-style="italic" transform="rotate(-90 18.3 260.4)">TE</text>
<rect x="309.9" y="254.5" width="33.9" height="89.6" fill="#fff" stroke="#555" stroke-width="0.8"/>
<line x1="326.8" y1="243.6" x2="326.8" y2="265.8" stroke="#555" stroke-width="0.8"/>
<line x1="323.6" y1="243.6" x2="330.0" y2="243.6" stroke="#555" stroke-width="0.8"/>
<line x1="323.6" y1="265.8" x2="330.0" y2="265.8" stroke="#555" stroke-width="0.8"/>
<text x="329.2" y="235.3" font-size="9.0" text-anchor="middle" textLength="35.0" lengthAdjust="spacingAndGlyphs">t=185.677</text>
<text x="326.8" y="244.9" font-size="6.8" text-anchor="middle" textLength="8.0" lengthAdjust="spacingAndGlyphs">***</text>
<rect x="365.7" y="258.3" width="33.9" height="85.8" fill="#fff" stroke="#555" stroke-width="0.8"/>
<line x1="382.6" y1="244.4" x2="382.6" y2="273.3" stroke="#555" stroke-width="0.8"/>
<line x1="379.4" y1="244.4" x2="385.8" y2="244.4" stroke="#555" stroke-width="0.8"/>
<line x1="379.4" y1="273.3" x2="385.8" y2="273.3" stroke="#555" stroke-width="0.8"/>
<text x="385.0" y="236.3" font-size="9.0" text-anchor="middle" textLength="35.0" lengthAdjust="spacingAndGlyphs">t=142.182</text>
<text x="382.6" y="245.4" font-size="6.8" text-anchor="middle" textLength="8.0" lengthAdjust="spacingAndGlyphs">***</text>
<rect x="421.3" y="265.8" width="33.9" height="78.3" fill="#fff" stroke="#555" stroke-width="0.8"/>
<line x1="438.2" y1="251.2" x2="438.2" y2="280.6" stroke="#555" stroke-width="0.8"/>
<line x1="435.1" y1="251.2" x2="441.4" y2="251.2" stroke="#555" stroke-width="0.8"/>
<line x1="435.1" y1="280.6" x2="441.4" y2="280.6" stroke="#555" stroke-width="0.8"/>
<text x="440.6" y="242.1" font-size="9.0" text-anchor="middle" textLength="35.0" lengthAdjust="spacingAndGlyphs">t=143.263</text>
<text x="438.2" y="251.6" font-size="6.8" text-anchor="middle" textLength="8.0" lengthAdjust="spacingAndGlyphs">***</text>
<rect x="477.2" y="261.5" width="33.9" height="82.6" fill="#fff" stroke="#555" stroke-width="0.8"/>
<line x1="494.1" y1="248.9" x2="494.1" y2="273.3" stroke="#555" stroke-width="0.8"/>
<line x1="490.9" y1="248.9" x2="497.3" y2="248.9" stroke="#555" stroke-width="0.8"/>
<line x1="490.9" y1="273.3" x2="497.3" y2="273.3" stroke="#555" stroke-width="0.8"/>
<text x="496.5" y="240.1" font-size="9.0" text-anchor="middle" textLength="35.0" lengthAdjust="spacingAndGlyphs">t=167.449</text>
<text x="494.1" y="249.0" font-size="6.8" text-anchor="middle" textLength="8.0" lengthAdjust="spacingAndGlyphs">***</text>
<rect x="298.6" y="187.4" width="223.6" height="156.7" fill="none" stroke="#666666" stroke-width="1.2"/>
<line x1="298.6" y1="193.2" x2="301.6" y2="193.2" stroke="#666666" stroke-width="0.9"/>
<text x="295.4" y="195.7" font-size="9.6" text-anchor="end" textLength="14.8" lengthAdjust="spacingAndGlyphs">1.02</text>
<line x1="298.6" y1="224.4" x2="301.6" y2="224.4" stroke="#666666" stroke-width="0.9"/>
<text x="295.4" y="226.9" font-size="9.6" text-anchor="end" textLength="14.8" lengthAdjust="spacingAndGlyphs">0.99</text>
<line x1="298.6" y1="255.6" x2="301.6" y2="255.6" stroke="#666666" stroke-width="0.9"/>
<text x="295.4" y="258.1" font-size="9.6" text-anchor="end" textLength="14.8" lengthAdjust="spacingAndGlyphs">0.96</text>
<line x1="298.6" y1="286.8" x2="301.6" y2="286.8" stroke="#666666" stroke-width="0.9"/>
<text x="295.4" y="289.3" font-size="9.6" text-anchor="end" textLength="14.8" lengthAdjust="spacingAndGlyphs">0.93</text>
<line x1="298.6" y1="318.0" x2="301.6" y2="318.0" stroke="#666666" stroke-width="0.9"/>
<text x="295.4" y="320.5" font-size="9.6" text-anchor="end" textLength="14.8" lengthAdjust="spacingAndGlyphs">0.90</text>
<text x="311.9" y="353.6" font-size="8.8" textLength="30.5" lengthAdjust="spacingAndGlyphs">The East</text>
<text x="362.1" y="353.6" font-size="8.8" textLength="41.1" lengthAdjust="spacingAndGlyphs">The Central</text>
<text x="422.2" y="353.6" font-size="8.8" textLength="32.8" lengthAdjust="spacingAndGlyphs">The West</text>
<text x="470.1" y="353.6" font-size="8.8" textLength="48.5" lengthAdjust="spacingAndGlyphs">The Northeast</text>
<text x="269.6" y="194.4" font-size="11.76" textLength="7.4" lengthAdjust="spacingAndGlyphs" stroke-width="0.4">D</text>
<text x="279.2" y="264.9" font-size="10.8" text-anchor="middle" textLength="76.0" lengthAdjust="spacingAndGlyphs" transform="rotate(-90 279.2 264.9)"><tspan font-style="italic">TE</tspan> Change scope</text>
<polygon points="45.5,366.9 51.2,369.8 56.9,373.3 62.7,376.7 68.4,372.8 74.1,372.2 79.8,374.1 85.5,375.7 91.3,371.4 97.0,373.7 102.7,368.2 108.4,366.9 114.1,366.9 119.9,367.5 125.6,367.9 131.3,368.2 137.0,368.2 137.0,385.5 131.3,381.6 125.6,375.3 119.9,372.8 114.1,371.4 108.4,370.8 102.7,375.7 97.0,380.6 91.3,373.3 85.5,397.3 79.8,406.1 74.1,407.1 68.4,410.0 62.7,416.9 56.9,422.8 51.2,420.8 45.5,425.8" fill="#dcdcdc"/>
<polyline points="45.5,395.9 51.2,395.9 56.9,398.3 62.7,396.7 68.4,392.4 74.1,389.8 79.8,390.0 85.5,384.9 91.3,372.2 97.0,376.7 102.7,371.8 108.4,368.8 114.1,369.4 119.9,370.2 125.6,371.2 131.3,374.7 137.0,376.7" fill="none" stroke="#8c8c8c" stroke-width="0.9"/>
<circle cx="45.5" cy="395.9" r="1.9" fill="#efefef" stroke="#a0a0a0" stroke-width="0.8"/>
<circle cx="51.2" cy="395.9" r="1.9" fill="#efefef" stroke="#a0a0a0" stroke-width="0.8"/>
<circle cx="56.9" cy="398.3" r="1.9" fill="#efefef" stroke="#a0a0a0" stroke-width="0.8"/>
<circle cx="62.7" cy="396.7" r="1.9" fill="#efefef" stroke="#a0a0a0" stroke-width="0.8"/>
<circle cx="68.4" cy="392.4" r="1.9" fill="#efefef" stroke="#a0a0a0" stroke-width="0.8"/>
<circle cx="74.1" cy="389.8" r="1.9" fill="#efefef" stroke="#a0a0a0" stroke-width="0.8"/>
<circle cx="79.8" cy="390.0" r="1.9" fill="#efefef" stroke="#a0a0a0" stroke-width="0.8"/>
<circle cx="85.5" cy="384.9" r="1.9" fill="#efefef" stroke="#a0a0a0" stroke-width="0.8"/>
<circle cx="91.3" cy="372.2" r="1.9" fill="#efefef" stroke="#a0a0a0" stroke-width="0.8"/>
<circle cx="97.0" cy="376.7" r="1.9" fill="#efefef" stroke="#a0a0a0" stroke-width="0.8"/>
<circle cx="102.7" cy="371.8" r="1.9" fill="#efefef" stroke="#a0a0a0" stroke-width="0.8"/>
<circle cx="108.4" cy="368.8" r="1.9" fill="#efefef" stroke="#a0a0a0" stroke-width="0.8"/>
<circle cx="114.1" cy="369.4" r="1.9" fill="#efefef" stroke="#a0a0a0" stroke-width="0.8"/>
<circle cx="119.9" cy="370.2" r="1.9" fill="#efefef" stroke="#a0a0a0" stroke-width="0.8"/>
<circle cx="125.6" cy="371.2" r="1.9" fill="#efefef" stroke="#a0a0a0" stroke-width="0.8"/>
<circle cx="131.3" cy="374.7" r="1.9" fill="#efefef" stroke="#a0a0a0" stroke-width="0.8"/>
<circle cx="137.0" cy="376.7" r="1.9" fill="#efefef" stroke="#a0a0a0" stroke-width="0.8"/>
<line x1="64.5" y1="414.4" x2="84.0" y2="414.4" stroke="#858585" stroke-width="0.8"/>
<circle cx="74.1" cy="414.4" r="1.9" fill="#fff" stroke="#9a9a9a" stroke-width="0.8"/>
<text x="86.1" y="417.4" font-size="8.8" textLength="10.6" lengthAdjust="spacingAndGlyphs" font-style="italic" stroke-width="0.38">TE</text>
<rect x="65.2" y="420.4" width="18.0" height="8.3" fill="#dcdcdc"/>
<text x="86.1" y="427.4" font-size="8.8" textLength="26.5" lengthAdjust="spacingAndGlyphs" stroke-width="0.38">95% CI</text>
<rect x="43.5" y="363.3" width="95.7" height="66.7" fill="none" stroke="#a8a8a8" stroke-width="0.8"/>
<line x1="43.5" y1="363.5" x2="45.5" y2="363.5" stroke="#a8a8a8" stroke-width="0.7"/>
<text x="41.5" y="366.4" font-size="8.4" text-anchor="end" textLength="15.3" lengthAdjust="spacingAndGlyphs" stroke-width="0.38">1.00</text>
<line x1="43.5" y1="379.2" x2="45.5" y2="379.2" stroke="#a8a8a8" stroke-width="0.7"/>
<text x="41.5" y="382.1" font-size="8.4" text-anchor="end" textLength="15.3" lengthAdjust="spacingAndGlyphs" stroke-width="0.38">0.98</text>
<line x1="43.5" y1="394.9" x2="45.5" y2="394.9" stroke="#a8a8a8" stroke-width="0.7"/>
<text x="41.5" y="397.8" font-size="8.4" text-anchor="end" textLength="15.3" lengthAdjust="spacingAndGlyphs" stroke-width="0.38">0.96</text>
<line x1="43.5" y1="410.6" x2="45.5" y2="410.6" stroke="#a8a8a8" stroke-width="0.7"/>
<text x="41.5" y="413.5" font-size="8.4" text-anchor="end" textLength="15.3" lengthAdjust="spacingAndGlyphs" stroke-width="0.38">0.94</text>
<line x1="43.5" y1="426.3" x2="45.5" y2="426.3" stroke="#a8a8a8" stroke-width="0.7"/>
<text x="41.5" y="429.2" font-size="8.4" text-anchor="end" textLength="15.3" lengthAdjust="spacingAndGlyphs" stroke-width="0.38">0.92</text>
<line x1="45.5" y1="430.0" x2="45.5" y2="428.0" stroke="#a8a8a8" stroke-width="0.7"/>
<line x1="45.5" y1="363.3" x2="45.5" y2="364.9" stroke="#a8a8a8" stroke-width="0.6"/>
<line x1="51.2" y1="430.0" x2="51.2" y2="428.8" stroke="#a8a8a8" stroke-width="0.7"/>
<line x1="51.2" y1="363.3" x2="51.2" y2="364.3" stroke="#a8a8a8" stroke-width="0.6"/>
<line x1="56.9" y1="430.0" x2="56.9" y2="428.8" stroke="#a8a8a8" stroke-width="0.7"/>
<line x1="56.9" y1="363.3" x2="56.9" y2="364.3" stroke="#a8a8a8" stroke-width="0.6"/>
<line x1="62.7" y1="430.0" x2="62.7" y2="428.8" stroke="#a8a8a8" stroke-width="0.7"/>
<line x1="62.7" y1="363.3" x2="62.7" y2="364.3" stroke="#a8a8a8" stroke-width="0.6"/>
<line x1="68.4" y1="430.0" x2="68.4" y2="428.0" stroke="#a8a8a8" stroke-width="0.7"/>
<line x1="68.4" y1="363.3" x2="68.4" y2="364.9" stroke="#a8a8a8" stroke-width="0.6"/>
<line x1="74.1" y1="430.0" x2="74.1" y2="428.8" stroke="#a8a8a8" stroke-width="0.7"/>
<line x1="74.1" y1="363.3" x2="74.1" y2="364.3" stroke="#a8a8a8" stroke-width="0.6"/>
<line x1="79.8" y1="430.0" x2="79.8" y2="428.8" stroke="#a8a8a8" stroke-width="0.7"/>
<line x1="79.8" y1="363.3" x2="79.8" y2="364.3" stroke="#a8a8a8" stroke-width="0.6"/>
<line x1="85.5" y1="430.0" x2="85.5" y2="428.8" stroke="#a8a8a8" stroke-width="0.7"/>
<line x1="85.5" y1="363.3" x2="85.5" y2="364.3" stroke="#a8a8a8" stroke-width="0.6"/>
<line x1="91.3" y1="430.0" x2="91.3" y2="428.0" stroke="#a8a8a8" stroke-width="0.7"/>
<line x1="91.3" y1="363.3" x2="91.3" y2="364.9" stroke="#a8a8a8" stroke-width="0.6"/>
<line x1="97.0" y1="430.0" x2="97.0" y2="428.8" stroke="#a8a8a8" stroke-width="0.7"/>
<line x1="97.0" y1="363.3" x2="97.0" y2="364.3" stroke="#a8a8a8" stroke-width="0.6"/>
<line x1="102.7" y1="430.0" x2="102.7" y2="428.8" stroke="#a8a8a8" stroke-width="0.7"/>
<line x1="102.7" y1="363.3" x2="102.7" y2="364.3" stroke="#a8a8a8" stroke-width="0.6"/>
<line x1="108.4" y1="430.0" x2="108.4" y2="428.8" stroke="#a8a8a8" stroke-width="0.7"/>
<line x1="108.4" y1="363.3" x2="108.4" y2="364.3" stroke="#a8a8a8" stroke-width="0.6"/>
<line x1="114.1" y1="430.0" x2="114.1" y2="428.0" stroke="#a8a8a8" stroke-width="0.7"/>
<line x1="114.1" y1="363.3" x2="114.1" y2="364.9" stroke="#a8a8a8" stroke-width="0.6"/>
<line x1="119.9" y1="430.0" x2="119.9" y2="428.8" stroke="#a8a8a8" stroke-width="0.7"/>
<line x1="119.9" y1="363.3" x2="119.9" y2="364.3" stroke="#a8a8a8" stroke-width="0.6"/>
<line x1="125.6" y1="430.0" x2="125.6" y2="428.8" stroke="#a8a8a8" stroke-width="0.7"/>
<line x1="125.6" y1="363.3" x2="125.6" y2="364.3" stroke="#a8a8a8" stroke-width="0.6"/>
<line x1="131.3" y1="430.0" x2="131.3" y2="428.8" stroke="#a8a8a8" stroke-width="0.7"/>
<line x1="131.3" y1="363.3" x2="131.3" y2="364.3" stroke="#a8a8a8" stroke-width="0.6"/>
<line x1="137.0" y1="430.0" x2="137.0" y2="428.0" stroke="#a8a8a8" stroke-width="0.7"/>
<line x1="137.0" y1="363.3" x2="137.0" y2="364.9" stroke="#a8a8a8" stroke-width="0.6"/>
<text x="45.5" y="438.9" font-size="8.3" text-anchor="middle" textLength="17.2" lengthAdjust="spacingAndGlyphs" stroke-width="0.38">2000</text>
<text x="68.4" y="438.9" font-size="8.3" text-anchor="middle" textLength="17.2" lengthAdjust="spacingAndGlyphs" stroke-width="0.38">2004</text>
<text x="91.3" y="438.9" font-size="8.3" text-anchor="middle" textLength="17.2" lengthAdjust="spacingAndGlyphs" stroke-width="0.38">2008</text>
<text x="114.1" y="438.9" font-size="8.3" text-anchor="middle" textLength="17.2" lengthAdjust="spacingAndGlyphs" stroke-width="0.38">2012</text>
<text x="137.0" y="438.9" font-size="8.3" text-anchor="middle" textLength="17.2" lengthAdjust="spacingAndGlyphs" stroke-width="0.38">2016</text>
<text x="21.0" y="393.2" font-size="10.5" text-anchor="middle" textLength="59.0" lengthAdjust="spacingAndGlyphs" stroke-width="0.38" transform="rotate(-90 21.0 393.2)">TE(The East)</text>
<text x="13.2" y="360.2" font-size="10.2" textLength="6.5" lengthAdjust="spacingAndGlyphs" stroke-width="0.6">E</text>
<polyline points="173.5,368.2 179.2,377.7 184.9,379.0 190.5,388.9 196.2,386.9 201.9,395.7 207.6,401.2 213.3,410.0 218.9,425.8 224.6,419.9 230.3,422.4 236.0,424.8 241.7,423.8 247.3,422.8 253.0,422.4 258.7,415.3 264.4,412.4" fill="none" stroke="#3a3a3a" stroke-width="0.9"/>
<rect x="171.9" y="366.6" width="3.2" height="3.2" fill="#fff" stroke="#808080" stroke-width="0.8"/>
<rect x="177.6" y="376.0" width="3.2" height="3.2" fill="#fff" stroke="#808080" stroke-width="0.8"/>
<rect x="183.2" y="377.4" width="3.2" height="3.2" fill="#fff" stroke="#808080" stroke-width="0.8"/>
<rect x="188.9" y="387.2" width="3.2" height="3.2" fill="#fff" stroke="#808080" stroke-width="0.8"/>
<rect x="194.6" y="385.3" width="3.2" height="3.2" fill="#fff" stroke="#808080" stroke-width="0.8"/>
<rect x="200.3" y="394.1" width="3.2" height="3.2" fill="#fff" stroke="#808080" stroke-width="0.8"/>
<rect x="206.0" y="399.6" width="3.2" height="3.2" fill="#fff" stroke="#808080" stroke-width="0.8"/>
<rect x="211.6" y="408.4" width="3.2" height="3.2" fill="#fff" stroke="#808080" stroke-width="0.8"/>
<rect x="217.3" y="424.1" width="3.2" height="3.2" fill="#fff" stroke="#808080" stroke-width="0.8"/>
<rect x="223.0" y="418.2" width="3.2" height="3.2" fill="#fff" stroke="#808080" stroke-width="0.8"/>
<rect x="228.7" y="420.8" width="3.2" height="3.2" fill="#fff" stroke="#808080" stroke-width="0.8"/>
<rect x="234.4" y="423.1" width="3.2" height="3.2" fill="#fff" stroke="#808080" stroke-width="0.8"/>
<rect x="240.0" y="422.2" width="3.2" height="3.2" fill="#fff" stroke="#808080" stroke-width="0.8"/>
<rect x="245.7" y="421.2" width="3.2" height="3.2" fill="#fff" stroke="#808080" stroke-width="0.8"/>
<rect x="251.4" y="420.8" width="3.2" height="3.2" fill="#fff" stroke="#808080" stroke-width="0.8"/>
<rect x="257.1" y="413.7" width="3.2" height="3.2" fill="#fff" stroke="#808080" stroke-width="0.8"/>
<rect x="262.8" y="410.8" width="3.2" height="3.2" fill="#fff" stroke="#808080" stroke-width="0.8"/>
<polyline points="173.5,412.6 179.2,407.1 184.9,398.9 190.5,403.2 196.2,409.1 201.9,419.5 207.6,415.3 213.3,414.0 218.9,424.8 224.6,418.5 230.3,420.8 236.0,424.8 241.7,423.8 247.3,422.8 253.0,422.8 258.7,418.5 264.4,421.2" fill="none" stroke="#3a3a3a" stroke-width="0.9"/>
<circle cx="173.5" cy="412.6" r="1.75" fill="#fff" stroke="#808080" stroke-width="0.8"/>
<circle cx="179.2" cy="407.1" r="1.75" fill="#fff" stroke="#808080" stroke-width="0.8"/>
<circle cx="184.9" cy="398.9" r="1.75" fill="#fff" stroke="#808080" stroke-width="0.8"/>
<circle cx="190.5" cy="403.2" r="1.75" fill="#fff" stroke="#808080" stroke-width="0.8"/>
<circle cx="196.2" cy="409.1" r="1.75" fill="#fff" stroke="#808080" stroke-width="0.8"/>
<circle cx="201.9" cy="419.5" r="1.75" fill="#fff" stroke="#808080" stroke-width="0.8"/>
<circle cx="207.6" cy="415.3" r="1.75" fill="#fff" stroke="#808080" stroke-width="0.8"/>
<circle cx="213.3" cy="414.0" r="1.75" fill="#fff" stroke="#808080" stroke-width="0.8"/>
<circle cx="218.9" cy="424.8" r="1.75" fill="#fff" stroke="#808080" stroke-width="0.8"/>
<circle cx="224.6" cy="418.5" r="1.75" fill="#fff" stroke="#808080" stroke-width="0.8"/>
<circle cx="230.3" cy="420.8" r="1.75" fill="#fff" stroke="#808080" stroke-width="0.8"/>
<circle cx="236.0" cy="424.8" r="1.75" fill="#fff" stroke="#808080" stroke-width="0.8"/>
<circle cx="241.7" cy="423.8" r="1.75" fill="#fff" stroke="#808080" stroke-width="0.8"/>
<circle cx="247.3" cy="422.8" r="1.75" fill="#fff" stroke="#808080" stroke-width="0.8"/>
<circle cx="253.0" cy="422.8" r="1.75" fill="#fff" stroke="#808080" stroke-width="0.8"/>
<circle cx="258.7" cy="418.5" r="1.75" fill="#fff" stroke="#808080" stroke-width="0.8"/>
<circle cx="264.4" cy="421.2" r="1.75" fill="#fff" stroke="#808080" stroke-width="0.8"/>
<line x1="196.4" y1="369.2" x2="213.0" y2="369.2" stroke="#444" stroke-width="0.8"/>
<rect x="203.6" y="367.6" width="3.2" height="3.2" fill="#fff" stroke="#808080" stroke-width="0.8"/>
<text x="217.6" y="372.2" font-size="8.8" textLength="10.6" lengthAdjust="spacingAndGlyphs" stroke-width="0.38">CV</text>
<line x1="196.4" y1="379.0" x2="213.0" y2="379.0" stroke="#444" stroke-width="0.8"/>
<circle cx="205.2" cy="379.0" r="1.75" fill="#fff" stroke="#808080" stroke-width="0.8"/>
<text x="217.6" y="382.0" font-size="8.8" textLength="39.3" lengthAdjust="spacingAndGlyphs" stroke-width="0.38">Robust CV</text>
<rect x="171.1" y="363.3" width="95.4" height="66.7" fill="none" stroke="#a8a8a8" stroke-width="0.8"/>
<line x1="171.1" y1="363.4" x2="173.1" y2="363.4" stroke="#a8a8a8" stroke-width="0.7"/>
<text x="169.1" y="366.3" font-size="8.4" text-anchor="end" textLength="15.3" lengthAdjust="spacingAndGlyphs" stroke-width="0.38">0.06</text>
<line x1="171.1" y1="385.7" x2="173.1" y2="385.7" stroke="#a8a8a8" stroke-width="0.7"/>
<text x="169.1" y="388.6" font-size="8.4" text-anchor="end" textLength="15.3" lengthAdjust="spacingAndGlyphs" stroke-width="0.38">0.04</text>
<line x1="171.1" y1="407.9" x2="173.1" y2="407.9" stroke="#a8a8a8" stroke-width="0.7"/>
<text x="169.1" y="410.8" font-size="8.4" text-anchor="end" textLength="15.3" lengthAdjust="spacingAndGlyphs" stroke-width="0.38">0.02</text>
<line x1="171.1" y1="430.0" x2="173.1" y2="430.0" stroke="#a8a8a8" stroke-width="0.7"/>
<text x="169.1" y="433.1" font-size="8.4" text-anchor="end" textLength="15.3" lengthAdjust="spacingAndGlyphs" stroke-width="0.38">0.00</text>
<line x1="173.5" y1="430.0" x2="173.5" y2="428.0" stroke="#a8a8a8" stroke-width="0.7"/>
<line x1="173.5" y1="363.3" x2="173.5" y2="364.9" stroke="#a8a8a8" stroke-width="0.6"/>
<line x1="179.2" y1="430.0" x2="179.2" y2="428.8" stroke="#a8a8a8" stroke-width="0.7"/>
<line x1="179.2" y1="363.3" x2="179.2" y2="364.3" stroke="#a8a8a8" stroke-width="0.6"/>
<line x1="184.9" y1="430.0" x2="184.9" y2="428.8" stroke="#a8a8a8" stroke-width="0.7"/>
<line x1="184.9" y1="363.3" x2="184.9" y2="364.3" stroke="#a8a8a8" stroke-width="0.6"/>
<line x1="190.5" y1="430.0" x2="190.5" y2="428.8" stroke="#a8a8a8" stroke-width="0.7"/>
<line x1="190.5" y1="363.3" x2="190.5" y2="364.3" stroke="#a8a8a8" stroke-width="0.6"/>
<line x1="196.2" y1="430.0" x2="196.2" y2="428.0" stroke="#a8a8a8" stroke-width="0.7"/>
<line x1="196.2" y1="363.3" x2="196.2" y2="364.9" stroke="#a8a8a8" stroke-width="0.6"/>
<line x1="201.9" y1="430.0" x2="201.9" y2="428.8" stroke="#a8a8a8" stroke-width="0.7"/>
<line x1="201.9" y1="363.3" x2="201.9" y2="364.3" stroke="#a8a8a8" stroke-width="0.6"/>
<line x1="207.6" y1="430.0" x2="207.6" y2="428.8" stroke="#a8a8a8" stroke-width="0.7"/>
<line x1="207.6" y1="363.3" x2="207.6" y2="364.3" stroke="#a8a8a8" stroke-width="0.6"/>
<line x1="213.3" y1="430.0" x2="213.3" y2="428.8" stroke="#a8a8a8" stroke-width="0.7"/>
<line x1="213.3" y1="363.3" x2="213.3" y2="364.3" stroke="#a8a8a8" stroke-width="0.6"/>
<line x1="218.9" y1="430.0" x2="218.9" y2="428.0" stroke="#a8a8a8" stroke-width="0.7"/>
<line x1="218.9" y1="363.3" x2="218.9" y2="364.9" stroke="#a8a8a8" stroke-width="0.6"/>
<line x1="224.6" y1="430.0" x2="224.6" y2="428.8" stroke="#a8a8a8" stroke-width="0.7"/>
<line x1="224.6" y1="363.3" x2="224.6" y2="364.3" stroke="#a8a8a8" stroke-width="0.6"/>
<line x1="230.3" y1="430.0" x2="230.3" y2="428.8" stroke="#a8a8a8" stroke-width="0.7"/>
<line x1="230.3" y1="363.3" x2="230.3" y2="364.3" stroke="#a8a8a8" stroke-width="0.6"/>
<line x1="236.0" y1="430.0" x2="236.0" y2="428.8" stroke="#a8a8a8" stroke-width="0.7"/>
<line x1="236.0" y1="363.3" x2="236.0" y2="364.3" stroke="#a8a8a8" stroke-width="0.6"/>
<line x1="241.7" y1="430.0" x2="241.7" y2="428.0" stroke="#a8a8a8" stroke-width="0.7"/>
<line x1="241.7" y1="363.3" x2="241.7" y2="364.9" stroke="#a8a8a8" stroke-width="0.6"/>
<line x1="247.3" y1="430.0" x2="247.3" y2="428.8" stroke="#a8a8a8" stroke-width="0.7"/>
<line x1="247.3" y1="363.3" x2="247.3" y2="364.3" stroke="#a8a8a8" stroke-width="0.6"/>
<line x1="253.0" y1="430.0" x2="253.0" y2="428.8" stroke="#a8a8a8" stroke-width="0.7"/>
<line x1="253.0" y1="363.3" x2="253.0" y2="364.3" stroke="#a8a8a8" stroke-width="0.6"/>
<line x1="258.7" y1="430.0" x2="258.7" y2="428.8" stroke="#a8a8a8" stroke-width="0.7"/>
<line x1="258.7" y1="363.3" x2="258.7" y2="364.3" stroke="#a8a8a8" stroke-width="0.6"/>
<line x1="264.4" y1="430.0" x2="264.4" y2="428.0" stroke="#a8a8a8" stroke-width="0.7"/>
<line x1="264.4" y1="363.3" x2="264.4" y2="364.9" stroke="#a8a8a8" stroke-width="0.6"/>
<text x="173.5" y="438.9" font-size="8.3" text-anchor="middle" textLength="17.2" lengthAdjust="spacingAndGlyphs" stroke-width="0.38">2000</text>
<text x="196.2" y="438.9" font-size="8.3" text-anchor="middle" textLength="17.2" lengthAdjust="spacingAndGlyphs" stroke-width="0.38">2004</text>
<text x="218.9" y="438.9" font-size="8.3" text-anchor="middle" textLength="17.2" lengthAdjust="spacingAndGlyphs" stroke-width="0.38">2008</text>
<text x="241.7" y="438.9" font-size="8.3" text-anchor="middle" textLength="17.2" lengthAdjust="spacingAndGlyphs" stroke-width="0.38">2012</text>
<text x="264.4" y="438.9" font-size="8.3" text-anchor="middle" textLength="17.2" lengthAdjust="spacingAndGlyphs" stroke-width="0.38">2016</text>
<text x="151.9" y="396.4" font-size="8.7" text-anchor="middle" textLength="53.5" lengthAdjust="spacingAndGlyphs" stroke-width="0.38" transform="rotate(-90 151.9 396.4)">CV (The East)</text>
<polygon points="45.5,462.1 51.2,463.3 56.9,467.6 62.7,471.2 68.4,468.6 74.1,468.6 79.8,467.6 85.5,464.7 91.3,459.8 97.0,466.6 102.7,459.8 108.4,455.9 114.1,455.9 119.9,455.9 125.6,456.8 131.3,457.8 137.0,458.8 137.0,482.9 131.3,477.4 125.6,469.6 119.9,466.6 114.1,464.7 108.4,461.3 102.7,464.1 97.0,473.5 91.3,463.3 85.5,482.3 79.8,500.0 74.1,502.0 68.4,501.0 62.7,513.8 56.9,498.0 51.2,489.2 45.5,490.2" fill="#dcdcdc"/>
<polyline points="45.5,476.5 51.2,476.5 56.9,483.3 62.7,492.7 68.4,484.9 74.1,485.9 79.8,484.3 85.5,473.5 91.3,461.3 97.0,470.0 102.7,461.7 108.4,458.8 114.1,460.4 119.9,461.2 125.6,462.7 131.3,467.6 137.0,470.6" fill="none" stroke="#8c8c8c" stroke-width="0.9"/>
<circle cx="45.5" cy="476.5" r="1.9" fill="#efefef" stroke="#a0a0a0" stroke-width="0.8"/>
<circle cx="51.2" cy="476.5" r="1.9" fill="#efefef" stroke="#a0a0a0" stroke-width="0.8"/>
<circle cx="56.9" cy="483.3" r="1.9" fill="#efefef" stroke="#a0a0a0" stroke-width="0.8"/>
<circle cx="62.7" cy="492.7" r="1.9" fill="#efefef" stroke="#a0a0a0" stroke-width="0.8"/>
<circle cx="68.4" cy="484.9" r="1.9" fill="#efefef" stroke="#a0a0a0" stroke-width="0.8"/>
<circle cx="74.1" cy="485.9" r="1.9" fill="#efefef" stroke="#a0a0a0" stroke-width="0.8"/>
<circle cx="79.8" cy="484.3" r="1.9" fill="#efefef" stroke="#a0a0a0" stroke-width="0.8"/>
<circle cx="85.5" cy="473.5" r="1.9" fill="#efefef" stroke="#a0a0a0" stroke-width="0.8"/>
<circle cx="91.3" cy="461.3" r="1.9" fill="#efefef" stroke="#a0a0a0" stroke-width="0.8"/>
<circle cx="97.0" cy="470.0" r="1.9" fill="#efefef" stroke="#a0a0a0" stroke-width="0.8"/>
<circle cx="102.7" cy="461.7" r="1.9" fill="#efefef" stroke="#a0a0a0" stroke-width="0.8"/>
<circle cx="108.4" cy="458.8" r="1.9" fill="#efefef" stroke="#a0a0a0" stroke-width="0.8"/>
<circle cx="114.1" cy="460.4" r="1.9" fill="#efefef" stroke="#a0a0a0" stroke-width="0.8"/>
<circle cx="119.9" cy="461.2" r="1.9" fill="#efefef" stroke="#a0a0a0" stroke-width="0.8"/>
<circle cx="125.6" cy="462.7" r="1.9" fill="#efefef" stroke="#a0a0a0" stroke-width="0.8"/>
<circle cx="131.3" cy="467.6" r="1.9" fill="#efefef" stroke="#a0a0a0" stroke-width="0.8"/>
<circle cx="137.0" cy="470.6" r="1.9" fill="#efefef" stroke="#a0a0a0" stroke-width="0.8"/>
<line x1="65.0" y1="504.5" x2="84.0" y2="504.5" stroke="#858585" stroke-width="0.8"/>
<circle cx="74.5" cy="504.5" r="1.9" fill="#fff" stroke="#9a9a9a" stroke-width="0.8"/>
<text x="86.1" y="507.5" font-size="8.8" textLength="10.6" lengthAdjust="spacingAndGlyphs" font-style="italic" stroke-width="0.38">TE</text>
<rect x="65.4" y="510.4" width="18.1" height="8.3" fill="#dcdcdc"/>
<text x="86.1" y="517.4" font-size="8.8" textLength="26.5" lengthAdjust="spacingAndGlyphs" stroke-width="0.38">95% CI</text>
<rect x="43.5" y="452.5" width="95.7" height="67.3" fill="none" stroke="#a8a8a8" stroke-width="0.8"/>
<line x1="43.5" y1="456.7" x2="45.5" y2="456.7" stroke="#a8a8a8" stroke-width="0.7"/>
<text x="41.5" y="459.6" font-size="8.4" text-anchor="end" textLength="15.3" lengthAdjust="spacingAndGlyphs" stroke-width="0.38">0.99</text>
<line x1="43.5" y1="468.5" x2="45.5" y2="468.5" stroke="#a8a8a8" stroke-width="0.7"/>
<text x="41.5" y="471.4" font-size="8.4" text-anchor="end" textLength="15.3" lengthAdjust="spacingAndGlyphs" stroke-width="0.38">0.96</text>
<line x1="43.5" y1="480.4" x2="45.5" y2="480.4" stroke="#a8a8a8" stroke-width="0.7"/>
<text x="41.5" y="483.3" font-size="8.4" text-anchor="end" textLength="15.3" lengthAdjust="spacingAndGlyphs" stroke-width="0.38">0.93</text>
<line x1="43.5" y1="492.2" x2="45.5" y2="492.2" stroke="#a8a8a8" stroke-width="0.7"/>
<text x="41.5" y="495.1" font-size="8.4" text-anchor="end" textLength="15.3" lengthAdjust="spacingAndGlyphs" stroke-width="0.38">0.90</text>
<line x1="43.5" y1="503.9" x2="45.5" y2="503.9" stroke="#a8a8a8" stroke-width="0.7"/>
<text x="41.5" y="506.8" font-size="8.4" text-anchor="end" textLength="15.3" lengthAdjust="spacingAndGlyphs" stroke-width="0.38">0.87</text>
<line x1="43.5" y1="515.7" x2="45.5" y2="515.7" stroke="#a8a8a8" stroke-width="0.7"/>
<text x="41.5" y="518.6" font-size="8.4" text-anchor="end" textLength="15.3" lengthAdjust="spacingAndGlyphs" stroke-width="0.38">0.84</text>
<line x1="45.5" y1="519.8" x2="45.5" y2="517.8" stroke="#a8a8a8" stroke-width="0.7"/>
<line x1="45.5" y1="452.5" x2="45.5" y2="454.1" stroke="#a8a8a8" stroke-width="0.6"/>
<line x1="51.2" y1="519.8" x2="51.2" y2="518.6" stroke="#a8a8a8" stroke-width="0.7"/>
<line x1="51.2" y1="452.5" x2="51.2" y2="453.5" stroke="#a8a8a8" stroke-width="0.6"/>
<line x1="56.9" y1="519.8" x2="56.9" y2="518.6" stroke="#a8a8a8" stroke-width="0.7"/>
<line x1="56.9" y1="452.5" x2="56.9" y2="453.5" stroke="#a8a8a8" stroke-width="0.6"/>
<line x1="62.7" y1="519.8" x2="62.7" y2="518.6" stroke="#a8a8a8" stroke-width="0.7"/>
<line x1="62.7" y1="452.5" x2="62.7" y2="453.5" stroke="#a8a8a8" stroke-width="0.6"/>
<line x1="68.4" y1="519.8" x2="68.4" y2="517.8" stroke="#a8a8a8" stroke-width="0.7"/>
<line x1="68.4" y1="452.5" x2="68.4" y2="454.1" stroke="#a8a8a8" stroke-width="0.6"/>
<line x1="74.1" y1="519.8" x2="74.1" y2="518.6" stroke="#a8a8a8" stroke-width="0.7"/>
<line x1="74.1" y1="452.5" x2="74.1" y2="453.5" stroke="#a8a8a8" stroke-width="0.6"/>
<line x1="79.8" y1="519.8" x2="79.8" y2="518.6" stroke="#a8a8a8" stroke-width="0.7"/>
<line x1="79.8" y1="452.5" x2="79.8" y2="453.5" stroke="#a8a8a8" stroke-width="0.6"/>
<line x1="85.5" y1="519.8" x2="85.5" y2="518.6" stroke="#a8a8a8" stroke-width="0.7"/>
<line x1="85.5" y1="452.5" x2="85.5" y2="453.5" stroke="#a8a8a8" stroke-width="0.6"/>
<line x1="91.3" y1="519.8" x2="91.3" y2="517.8" stroke="#a8a8a8" stroke-width="0.7"/>
<line x1="91.3" y1="452.5" x2="91.3" y2="454.1" stroke="#a8a8a8" stroke-width="0.6"/>
<line x1="97.0" y1="519.8" x2="97.0" y2="518.6" stroke="#a8a8a8" stroke-width="0.7"/>
<line x1="97.0" y1="452.5" x2="97.0" y2="453.5" stroke="#a8a8a8" stroke-width="0.6"/>
<line x1="102.7" y1="519.8" x2="102.7" y2="518.6" stroke="#a8a8a8" stroke-width="0.7"/>
<line x1="102.7" y1="452.5" x2="102.7" y2="453.5" stroke="#a8a8a8" stroke-width="0.6"/>
<line x1="108.4" y1="519.8" x2="108.4" y2="518.6" stroke="#a8a8a8" stroke-width="0.7"/>
<line x1="108.4" y1="452.5" x2="108.4" y2="453.5" stroke="#a8a8a8" stroke-width="0.6"/>
<line x1="114.1" y1="519.8" x2="114.1" y2="517.8" stroke="#a8a8a8" stroke-width="0.7"/>
<line x1="114.1" y1="452.5" x2="114.1" y2="454.1" stroke="#a8a8a8" stroke-width="0.6"/>
<line x1="119.9" y1="519.8" x2="119.9" y2="518.6" stroke="#a8a8a8" stroke-width="0.7"/>
<line x1="119.9" y1="452.5" x2="119.9" y2="453.5" stroke="#a8a8a8" stroke-width="0.6"/>
<line x1="125.6" y1="519.8" x2="125.6" y2="518.6" stroke="#a8a8a8" stroke-width="0.7"/>
<line x1="125.6" y1="452.5" x2="125.6" y2="453.5" stroke="#a8a8a8" stroke-width="0.6"/>
<line x1="131.3" y1="519.8" x2="131.3" y2="518.6" stroke="#a8a8a8" stroke-width="0.7"/>
<line x1="131.3" y1="452.5" x2="131.3" y2="453.5" stroke="#a8a8a8" stroke-width="0.6"/>
<line x1="137.0" y1="519.8" x2="137.0" y2="517.8" stroke="#a8a8a8" stroke-width="0.7"/>
<line x1="137.0" y1="452.5" x2="137.0" y2="454.1" stroke="#a8a8a8" stroke-width="0.6"/>
<text x="45.5" y="528.1" font-size="8.3" text-anchor="middle" textLength="17.2" lengthAdjust="spacingAndGlyphs" stroke-width="0.38">2000</text>
<text x="68.4" y="528.1" font-size="8.3" text-anchor="middle" textLength="17.2" lengthAdjust="spacingAndGlyphs" stroke-width="0.38">2004</text>
<text x="91.3" y="528.1" font-size="8.3" text-anchor="middle" textLength="17.2" lengthAdjust="spacingAndGlyphs" stroke-width="0.38">2008</text>
<text x="114.1" y="528.1" font-size="8.3" text-anchor="middle" textLength="17.2" lengthAdjust="spacingAndGlyphs" stroke-width="0.38">2012</text>
<text x="137.0" y="528.1" font-size="8.3" text-anchor="middle" textLength="17.2" lengthAdjust="spacingAndGlyphs" stroke-width="0.38">2016</text>
<text x="20.0" y="484.3" font-size="10.0" text-anchor="middle" textLength="41.6" lengthAdjust="spacingAndGlyphs" stroke-width="0.38" transform="rotate(-90 20.0 484.3)">The West</text>
<text x="91.3" y="543.0" font-size="10.3" text-anchor="middle" textLength="21.5" lengthAdjust="spacingAndGlyphs" stroke-width="0.38">Year</text>
<polyline points="173.5,482.9 179.2,484.9 184.9,473.9 190.5,461.3 196.2,471.6 201.9,464.7 207.6,466.6 213.3,490.2 218.9,511.2 224.6,503.0 230.3,509.8 236.0,511.8 241.7,506.9 247.3,506.9 253.0,503.9 258.7,495.1 264.4,489.6" fill="none" stroke="#3a3a3a" stroke-width="0.9"/>
<rect x="171.9" y="481.3" width="3.2" height="3.2" fill="#fff" stroke="#808080" stroke-width="0.8"/>
<rect x="177.6" y="483.3" width="3.2" height="3.2" fill="#fff" stroke="#808080" stroke-width="0.8"/>
<rect x="183.2" y="472.3" width="3.2" height="3.2" fill="#fff" stroke="#808080" stroke-width="0.8"/>
<rect x="188.9" y="459.7" width="3.2" height="3.2" fill="#fff" stroke="#808080" stroke-width="0.8"/>
<rect x="194.6" y="469.9" width="3.2" height="3.2" fill="#fff" stroke="#808080" stroke-width="0.8"/>
<rect x="200.3" y="463.1" width="3.2" height="3.2" fill="#fff" stroke="#808080" stroke-width="0.8"/>
<rect x="206.0" y="465.0" width="3.2" height="3.2" fill="#fff" stroke="#808080" stroke-width="0.8"/>
<rect x="211.6" y="488.6" width="3.2" height="3.2" fill="#fff" stroke="#808080" stroke-width="0.8"/>
<rect x="217.3" y="509.6" width="3.2" height="3.2" fill="#fff" stroke="#808080" stroke-width="0.8"/>
<rect x="223.0" y="501.3" width="3.2" height="3.2" fill="#fff" stroke="#808080" stroke-width="0.8"/>
<rect x="228.7" y="508.2" width="3.2" height="3.2" fill="#fff" stroke="#808080" stroke-width="0.8"/>
<rect x="234.4" y="510.2" width="3.2" height="3.2" fill="#fff" stroke="#808080" stroke-width="0.8"/>
<rect x="240.0" y="505.3" width="3.2" height="3.2" fill="#fff" stroke="#808080" stroke-width="0.8"/>
<rect x="245.7" y="505.3" width="3.2" height="3.2" fill="#fff" stroke="#808080" stroke-width="0.8"/>
<rect x="251.4" y="502.3" width="3.2" height="3.2" fill="#fff" stroke="#808080" stroke-width="0.8"/>
<rect x="257.1" y="493.5" width="3.2" height="3.2" fill="#fff" stroke="#808080" stroke-width="0.8"/>
<rect x="262.8" y="488.0" width="3.2" height="3.2" fill="#fff" stroke="#808080" stroke-width="0.8"/>
<polyline points="173.5,495.7 179.2,493.1 184.9,477.8 190.5,462.1 196.2,475.5 201.9,473.5 207.6,474.5 213.3,490.2 218.9,511.8 224.6,503.0 230.3,510.4 236.0,514.3 241.7,511.8 247.3,510.8 253.0,509.2 258.7,500.0 264.4,493.1" fill="none" stroke="#3a3a3a" stroke-width="0.9"/>
<circle cx="173.5" cy="495.7" r="1.75" fill="#fff" stroke="#808080" stroke-width="0.8"/>
<circle cx="179.2" cy="493.1" r="1.75" fill="#fff" stroke="#808080" stroke-width="0.8"/>
<circle cx="184.9" cy="477.8" r="1.75" fill="#fff" stroke="#808080" stroke-width="0.8"/>
<circle cx="190.5" cy="462.1" r="1.75" fill="#fff" stroke="#808080" stroke-width="0.8"/>
<circle cx="196.2" cy="475.5" r="1.75" fill="#fff" stroke="#808080" stroke-width="0.8"/>
<circle cx="201.9" cy="473.5" r="1.75" fill="#fff" stroke="#808080" stroke-width="0.8"/>
<circle cx="207.6" cy="474.5" r="1.75" fill="#fff" stroke="#808080" stroke-width="0.8"/>
<circle cx="213.3" cy="490.2" r="1.75" fill="#fff" stroke="#808080" stroke-width="0.8"/>
<circle cx="218.9" cy="511.8" r="1.75" fill="#fff" stroke="#808080" stroke-width="0.8"/>
<circle cx="224.6" cy="503.0" r="1.75" fill="#fff" stroke="#808080" stroke-width="0.8"/>
<circle cx="230.3" cy="510.4" r="1.75" fill="#fff" stroke="#808080" stroke-width="0.8"/>
<circle cx="236.0" cy="514.3" r="1.75" fill="#fff" stroke="#808080" stroke-width="0.8"/>
<circle cx="241.7" cy="511.8" r="1.75" fill="#fff" stroke="#808080" stroke-width="0.8"/>
<circle cx="247.3" cy="510.8" r="1.75" fill="#fff" stroke="#808080" stroke-width="0.8"/>
<circle cx="253.0" cy="509.2" r="1.75" fill="#fff" stroke="#808080" stroke-width="0.8"/>
<circle cx="258.7" cy="500.0" r="1.75" fill="#fff" stroke="#808080" stroke-width="0.8"/>
<circle cx="264.4" cy="493.1" r="1.75" fill="#fff" stroke="#808080" stroke-width="0.8"/>
<line x1="194.4" y1="458.8" x2="213.0" y2="458.8" stroke="#444" stroke-width="0.8"/>
<rect x="202.7" y="457.2" width="3.2" height="3.2" fill="#fff" stroke="#808080" stroke-width="0.8"/>
<text x="217.0" y="461.8" font-size="8.8" textLength="10.6" lengthAdjust="spacingAndGlyphs" stroke-width="0.38">CV</text>
<line x1="194.4" y1="468.6" x2="213.0" y2="468.6" stroke="#444" stroke-width="0.8"/>
<circle cx="204.3" cy="468.6" r="1.75" fill="#fff" stroke="#808080" stroke-width="0.8"/>
<text x="217.0" y="471.8" font-size="8.8" textLength="38.7" lengthAdjust="spacingAndGlyphs" stroke-width="0.38">Robust CV</text>
<rect x="171.1" y="452.5" width="95.4" height="67.3" fill="none" stroke="#a8a8a8" stroke-width="0.8"/>
<line x1="171.1" y1="452.6" x2="173.1" y2="452.6" stroke="#a8a8a8" stroke-width="0.7"/>
<text x="169.1" y="455.5" font-size="8.4" text-anchor="end" textLength="15.3" lengthAdjust="spacingAndGlyphs" stroke-width="0.38">0.10</text>
<line x1="171.1" y1="466.0" x2="173.1" y2="466.0" stroke="#a8a8a8" stroke-width="0.7"/>
<text x="169.1" y="468.9" font-size="8.4" text-anchor="end" textLength="15.3" lengthAdjust="spacingAndGlyphs" stroke-width="0.38">0.08</text>
<line x1="171.1" y1="479.3" x2="173.1" y2="479.3" stroke="#a8a8a8" stroke-width="0.7"/>
<text x="169.1" y="482.2" font-size="8.4" text-anchor="end" textLength="15.3" lengthAdjust="spacingAndGlyphs" stroke-width="0.38">0.06</text>
<line x1="171.1" y1="492.7" x2="173.1" y2="492.7" stroke="#a8a8a8" stroke-width="0.7"/>
<text x="169.1" y="495.6" font-size="8.4" text-anchor="end" textLength="15.3" lengthAdjust="spacingAndGlyphs" stroke-width="0.38">0.04</text>
<line x1="171.1" y1="506.0" x2="173.1" y2="506.0" stroke="#a8a8a8" stroke-width="0.7"/>
<text x="169.1" y="508.9" font-size="8.4" text-anchor="end" textLength="15.3" lengthAdjust="spacingAndGlyphs" stroke-width="0.38">0.02</text>
<line x1="171.1" y1="519.4" x2="173.1" y2="519.4" stroke="#a8a8a8" stroke-width="0.7"/>
<text x="169.1" y="522.3" font-size="8.4" text-anchor="end" textLength="15.3" lengthAdjust="spacingAndGlyphs" stroke-width="0.38">0.00</text>
<line x1="173.5" y1="519.8" x2="173.5" y2="517.8" stroke="#a8a8a8" stroke-width="0.7"/>
<line x1="173.5" y1="452.5" x2="173.5" y2="454.1" stroke="#a8a8a8" stroke-width="0.6"/>
<line x1="179.2" y1="519.8" x2="179.2" y2="518.6" stroke="#a8a8a8" stroke-width="0.7"/>
<line x1="179.2" y1="452.5" x2="179.2" y2="453.5" stroke="#a8a8a8" stroke-width="0.6"/>
<line x1="184.9" y1="519.8" x2="184.9" y2="518.6" stroke="#a8a8a8" stroke-width="0.7"/>
<line x1="184.9" y1="452.5" x2="184.9" y2="453.5" stroke="#a8a8a8" stroke-width="0.6"/>
<line x1="190.5" y1="519.8" x2="190.5" y2="518.6" stroke="#a8a8a8" stroke-width="0.7"/>
<line x1="190.5" y1="452.5" x2="190.5" y2="453.5" stroke="#a8a8a8" stroke-width="0.6"/>
<line x1="196.2" y1="519.8" x2="196.2" y2="517.8" stroke="#a8a8a8" stroke-width="0.7"/>
<line x1="196.2" y1="452.5" x2="196.2" y2="454.1" stroke="#a8a8a8" stroke-width="0.6"/>
<line x1="201.9" y1="519.8" x2="201.9" y2="518.6" stroke="#a8a8a8" stroke-width="0.7"/>
<line x1="201.9" y1="452.5" x2="201.9" y2="453.5" stroke="#a8a8a8" stroke-width="0.6"/>
<line x1="207.6" y1="519.8" x2="207.6" y2="518.6" stroke="#a8a8a8" stroke-width="0.7"/>
<line x1="207.6" y1="452.5" x2="207.6" y2="453.5" stroke="#a8a8a8" stroke-width="0.6"/>
<line x1="213.3" y1="519.8" x2="213.3" y2="518.6" stroke="#a8a8a8" stroke-width="0.7"/>
<line x1="213.3" y1="452.5" x2="213.3" y2="453.5" stroke="#a8a8a8" stroke-width="0.6"/>
<line x1="218.9" y1="519.8" x2="218.9" y2="517.8" stroke="#a8a8a8" stroke-width="0.7"/>
<line x1="218.9" y1="452.5" x2="218.9" y2="454.1" stroke="#a8a8a8" stroke-width="0.6"/>
<line x1="224.6" y1="519.8" x2="224.6" y2="518.6" stroke="#a8a8a8" stroke-width="0.7"/>
<line x1="224.6" y1="452.5" x2="224.6" y2="453.5" stroke="#a8a8a8" stroke-width="0.6"/>
<line x1="230.3" y1="519.8" x2="230.3" y2="518.6" stroke="#a8a8a8" stroke-width="0.7"/>
<line x1="230.3" y1="452.5" x2="230.3" y2="453.5" stroke="#a8a8a8" stroke-width="0.6"/>
<line x1="236.0" y1="519.8" x2="236.0" y2="518.6" stroke="#a8a8a8" stroke-width="0.7"/>
<line x1="236.0" y1="452.5" x2="236.0" y2="453.5" stroke="#a8a8a8" stroke-width="0.6"/>
<line x1="241.7" y1="519.8" x2="241.7" y2="517.8" stroke="#a8a8a8" stroke-width="0.7"/>
<line x1="241.7" y1="452.5" x2="241.7" y2="454.1" stroke="#a8a8a8" stroke-width="0.6"/>
<line x1="247.3" y1="519.8" x2="247.3" y2="518.6" stroke="#a8a8a8" stroke-width="0.7"/>
<line x1="247.3" y1="452.5" x2="247.3" y2="453.5" stroke="#a8a8a8" stroke-width="0.6"/>
<line x1="253.0" y1="519.8" x2="253.0" y2="518.6" stroke="#a8a8a8" stroke-width="0.7"/>
<line x1="253.0" y1="452.5" x2="253.0" y2="453.5" stroke="#a8a8a8" stroke-width="0.6"/>
<line x1="258.7" y1="519.8" x2="258.7" y2="518.6" stroke="#a8a8a8" stroke-width="0.7"/>
<line x1="258.7" y1="452.5" x2="258.7" y2="453.5" stroke="#a8a8a8" stroke-width="0.6"/>
<line x1="264.4" y1="519.8" x2="264.4" y2="517.8" stroke="#a8a8a8" stroke-width="0.7"/>
<line x1="264.4" y1="452.5" x2="264.4" y2="454.1" stroke="#a8a8a8" stroke-width="0.6"/>
<text x="173.5" y="528.1" font-size="8.3" text-anchor="middle" textLength="17.2" lengthAdjust="spacingAndGlyphs" stroke-width="0.38">2000</text>
<text x="196.2" y="528.1" font-size="8.3" text-anchor="middle" textLength="17.2" lengthAdjust="spacingAndGlyphs" stroke-width="0.38">2004</text>
<text x="218.9" y="528.1" font-size="8.3" text-anchor="middle" textLength="17.2" lengthAdjust="spacingAndGlyphs" stroke-width="0.38">2008</text>
<text x="241.7" y="528.1" font-size="8.3" text-anchor="middle" textLength="17.2" lengthAdjust="spacingAndGlyphs" stroke-width="0.38">2012</text>
<text x="264.4" y="528.1" font-size="8.3" text-anchor="middle" textLength="17.2" lengthAdjust="spacingAndGlyphs" stroke-width="0.38">2016</text>
<text x="150.6" y="486.4" font-size="8.7" text-anchor="middle" textLength="54.0" lengthAdjust="spacingAndGlyphs" stroke-width="0.38" transform="rotate(-90 150.6 486.4)">CV (The West)</text>
<text x="219.0" y="543.0" font-size="10.3" text-anchor="middle" textLength="24.8" lengthAdjust="spacingAndGlyphs" stroke-width="0.38">Year)</text>
<polygon points="302.1,368.8 307.7,369.4 313.3,370.8 318.9,372.7 324.5,369.4 330.2,371.3 335.8,371.3 341.4,371.3 347.0,372.1 352.6,377.6 358.2,372.1 363.8,369.8 369.4,368.8 375.0,367.8 380.6,366.8 386.2,367.4 391.9,367.8 391.9,383.1 386.2,381.9 380.6,379.6 375.0,375.7 369.4,372.7 363.8,372.7 358.2,376.6 352.6,385.5 347.0,376.6 341.4,397.3 335.8,413.9 330.2,413.5 324.5,413.7 318.9,423.8 313.3,424.7 307.7,407.1 302.1,399.2" fill="#dcdcdc"/>
<polyline points="302.1,384.5 307.7,389.4 313.3,397.8 318.9,398.6 324.5,390.0 330.2,391.8 335.8,393.3 341.4,384.5 347.0,374.1 352.6,380.6 358.2,374.1 363.8,371.2 369.4,370.8 375.0,371.7 380.6,373.3 386.2,374.7 391.9,375.7" fill="none" stroke="#8c8c8c" stroke-width="0.9"/>
<circle cx="302.1" cy="384.5" r="1.9" fill="#efefef" stroke="#a0a0a0" stroke-width="0.8"/>
<circle cx="307.7" cy="389.4" r="1.9" fill="#efefef" stroke="#a0a0a0" stroke-width="0.8"/>
<circle cx="313.3" cy="397.8" r="1.9" fill="#efefef" stroke="#a0a0a0" stroke-width="0.8"/>
<circle cx="318.9" cy="398.6" r="1.9" fill="#efefef" stroke="#a0a0a0" stroke-width="0.8"/>
<circle cx="324.5" cy="390.0" r="1.9" fill="#efefef" stroke="#a0a0a0" stroke-width="0.8"/>
<circle cx="330.2" cy="391.8" r="1.9" fill="#efefef" stroke="#a0a0a0" stroke-width="0.8"/>
<circle cx="335.8" cy="393.3" r="1.9" fill="#efefef" stroke="#a0a0a0" stroke-width="0.8"/>
<circle cx="341.4" cy="384.5" r="1.9" fill="#efefef" stroke="#a0a0a0" stroke-width="0.8"/>
<circle cx="347.0" cy="374.1" r="1.9" fill="#efefef" stroke="#a0a0a0" stroke-width="0.8"/>
<circle cx="352.6" cy="380.6" r="1.9" fill="#efefef" stroke="#a0a0a0" stroke-width="0.8"/>
<circle cx="358.2" cy="374.1" r="1.9" fill="#efefef" stroke="#a0a0a0" stroke-width="0.8"/>
<circle cx="363.8" cy="371.2" r="1.9" fill="#efefef" stroke="#a0a0a0" stroke-width="0.8"/>
<circle cx="369.4" cy="370.8" r="1.9" fill="#efefef" stroke="#a0a0a0" stroke-width="0.8"/>
<circle cx="375.0" cy="371.7" r="1.9" fill="#efefef" stroke="#a0a0a0" stroke-width="0.8"/>
<circle cx="380.6" cy="373.3" r="1.9" fill="#efefef" stroke="#a0a0a0" stroke-width="0.8"/>
<circle cx="386.2" cy="374.7" r="1.9" fill="#efefef" stroke="#a0a0a0" stroke-width="0.8"/>
<circle cx="391.9" cy="375.7" r="1.9" fill="#efefef" stroke="#a0a0a0" stroke-width="0.8"/>
<line x1="320.5" y1="414.9" x2="339.2" y2="414.9" stroke="#858585" stroke-width="0.8"/>
<circle cx="329.9" cy="414.9" r="1.9" fill="#fff" stroke="#9a9a9a" stroke-width="0.8"/>
<text x="342.0" y="417.9" font-size="8.8" textLength="10.6" lengthAdjust="spacingAndGlyphs" font-style="italic" stroke-width="0.38">TE</text>
<rect x="321.1" y="421.3" width="17.5" height="8.7" fill="#dcdcdc"/>
<text x="342.0" y="427.6" font-size="8.8" textLength="26.5" lengthAdjust="spacingAndGlyphs" stroke-width="0.38">95% CI</text>
<rect x="298.5" y="363.3" width="96.4" height="66.7" fill="none" stroke="#a8a8a8" stroke-width="0.8"/>
<line x1="298.5" y1="366.8" x2="300.5" y2="366.8" stroke="#a8a8a8" stroke-width="0.7"/>
<text x="296.5" y="369.7" font-size="8.4" text-anchor="end" textLength="15.3" lengthAdjust="spacingAndGlyphs" stroke-width="0.38">1.00</text>
<line x1="298.5" y1="380.9" x2="300.5" y2="380.9" stroke="#a8a8a8" stroke-width="0.7"/>
<text x="296.5" y="383.8" font-size="8.4" text-anchor="end" textLength="15.3" lengthAdjust="spacingAndGlyphs" stroke-width="0.38">0.96</text>
<line x1="298.5" y1="395.0" x2="300.5" y2="395.0" stroke="#a8a8a8" stroke-width="0.7"/>
<text x="296.5" y="397.9" font-size="8.4" text-anchor="end" textLength="15.3" lengthAdjust="spacingAndGlyphs" stroke-width="0.38">0.92</text>
<line x1="298.5" y1="409.1" x2="300.5" y2="409.1" stroke="#a8a8a8" stroke-width="0.7"/>
<text x="296.5" y="412.0" font-size="8.4" text-anchor="end" textLength="15.3" lengthAdjust="spacingAndGlyphs" stroke-width="0.38">0.88</text>
<line x1="298.5" y1="423.2" x2="300.5" y2="423.2" stroke="#a8a8a8" stroke-width="0.7"/>
<text x="296.5" y="426.1" font-size="8.4" text-anchor="end" textLength="15.3" lengthAdjust="spacingAndGlyphs" stroke-width="0.38">0.84</text>
<line x1="302.1" y1="430.0" x2="302.1" y2="428.0" stroke="#a8a8a8" stroke-width="0.7"/>
<line x1="302.1" y1="363.3" x2="302.1" y2="364.9" stroke="#a8a8a8" stroke-width="0.6"/>
<line x1="307.7" y1="430.0" x2="307.7" y2="428.8" stroke="#a8a8a8" stroke-width="0.7"/>
<line x1="307.7" y1="363.3" x2="307.7" y2="364.3" stroke="#a8a8a8" stroke-width="0.6"/>
<line x1="313.3" y1="430.0" x2="313.3" y2="428.8" stroke="#a8a8a8" stroke-width="0.7"/>
<line x1="313.3" y1="363.3" x2="313.3" y2="364.3" stroke="#a8a8a8" stroke-width="0.6"/>
<line x1="318.9" y1="430.0" x2="318.9" y2="428.8" stroke="#a8a8a8" stroke-width="0.7"/>
<line x1="318.9" y1="363.3" x2="318.9" y2="364.3" stroke="#a8a8a8" stroke-width="0.6"/>
<line x1="324.5" y1="430.0" x2="324.5" y2="428.0" stroke="#a8a8a8" stroke-width="0.7"/>
<line x1="324.5" y1="363.3" x2="324.5" y2="364.9" stroke="#a8a8a8" stroke-width="0.6"/>
<line x1="330.2" y1="430.0" x2="330.2" y2="428.8" stroke="#a8a8a8" stroke-width="0.7"/>
<line x1="330.2" y1="363.3" x2="330.2" y2="364.3" stroke="#a8a8a8" stroke-width="0.6"/>
<line x1="335.8" y1="430.0" x2="335.8" y2="428.8" stroke="#a8a8a8" stroke-width="0.7"/>
<line x1="335.8" y1="363.3" x2="335.8" y2="364.3" stroke="#a8a8a8" stroke-width="0.6"/>
<line x1="341.4" y1="430.0" x2="341.4" y2="428.8" stroke="#a8a8a8" stroke-width="0.7"/>
<line x1="341.4" y1="363.3" x2="341.4" y2="364.3" stroke="#a8a8a8" stroke-width="0.6"/>
<line x1="347.0" y1="430.0" x2="347.0" y2="428.0" stroke="#a8a8a8" stroke-width="0.7"/>
<line x1="347.0" y1="363.3" x2="347.0" y2="364.9" stroke="#a8a8a8" stroke-width="0.6"/>
<line x1="352.6" y1="430.0" x2="352.6" y2="428.8" stroke="#a8a8a8" stroke-width="0.7"/>
<line x1="352.6" y1="363.3" x2="352.6" y2="364.3" stroke="#a8a8a8" stroke-width="0.6"/>
<line x1="358.2" y1="430.0" x2="358.2" y2="428.8" stroke="#a8a8a8" stroke-width="0.7"/>
<line x1="358.2" y1="363.3" x2="358.2" y2="364.3" stroke="#a8a8a8" stroke-width="0.6"/>
<line x1="363.8" y1="430.0" x2="363.8" y2="428.8" stroke="#a8a8a8" stroke-width="0.7"/>
<line x1="363.8" y1="363.3" x2="363.8" y2="364.3" stroke="#a8a8a8" stroke-width="0.6"/>
<line x1="369.4" y1="430.0" x2="369.4" y2="428.0" stroke="#a8a8a8" stroke-width="0.7"/>
<line x1="369.4" y1="363.3" x2="369.4" y2="364.9" stroke="#a8a8a8" stroke-width="0.6"/>
<line x1="375.0" y1="430.0" x2="375.0" y2="428.8" stroke="#a8a8a8" stroke-width="0.7"/>
<line x1="375.0" y1="363.3" x2="375.0" y2="364.3" stroke="#a8a8a8" stroke-width="0.6"/>
<line x1="380.6" y1="430.0" x2="380.6" y2="428.8" stroke="#a8a8a8" stroke-width="0.7"/>
<line x1="380.6" y1="363.3" x2="380.6" y2="364.3" stroke="#a8a8a8" stroke-width="0.6"/>
<line x1="386.2" y1="430.0" x2="386.2" y2="428.8" stroke="#a8a8a8" stroke-width="0.7"/>
<line x1="386.2" y1="363.3" x2="386.2" y2="364.3" stroke="#a8a8a8" stroke-width="0.6"/>
<line x1="391.9" y1="430.0" x2="391.9" y2="428.0" stroke="#a8a8a8" stroke-width="0.7"/>
<line x1="391.9" y1="363.3" x2="391.9" y2="364.9" stroke="#a8a8a8" stroke-width="0.6"/>
<text x="302.1" y="438.9" font-size="8.3" text-anchor="middle" textLength="17.2" lengthAdjust="spacingAndGlyphs" stroke-width="0.38">2000</text>
<text x="324.5" y="438.9" font-size="8.3" text-anchor="middle" textLength="17.2" lengthAdjust="spacingAndGlyphs" stroke-width="0.38">2004</text>
<text x="347.0" y="438.9" font-size="8.3" text-anchor="middle" textLength="17.2" lengthAdjust="spacingAndGlyphs" stroke-width="0.38">2008</text>
<text x="369.4" y="438.9" font-size="8.3" text-anchor="middle" textLength="17.2" lengthAdjust="spacingAndGlyphs" stroke-width="0.38">2012</text>
<text x="391.9" y="438.9" font-size="8.3" text-anchor="middle" textLength="17.2" lengthAdjust="spacingAndGlyphs" stroke-width="0.38">2016</text>
<text x="278.4" y="393.8" font-size="10.4" text-anchor="middle" textLength="71.4" lengthAdjust="spacingAndGlyphs" stroke-width="0.38" transform="rotate(-90 278.4 393.8)">TE(The Central)</text>
<polygon points="302.1,474.5 307.7,472.5 313.3,470.6 318.9,466.6 324.5,455.5 330.2,461.3 335.8,461.7 341.4,460.8 347.0,469.6 352.6,473.1 358.2,474.5 363.8,474.5 369.4,473.5 375.0,473.1 380.6,473.5 386.2,466.6 391.9,465.3 391.9,509.8 386.2,490.2 380.6,480.4 375.0,477.4 369.4,476.5 363.8,477.0 358.2,481.4 352.6,489.2 347.0,486.3 341.4,504.9 335.8,508.8 330.2,508.8 324.5,512.8 318.9,499.0 313.3,490.2 307.7,485.3 302.1,482.3" fill="#dcdcdc"/>
<polyline points="302.1,477.8 307.7,479.0 313.3,481.4 318.9,483.7 324.5,485.3 330.2,484.9 335.8,485.7 341.4,483.3 347.0,478.4 352.6,482.9 358.2,478.8 363.8,475.9 369.4,475.1 375.0,475.5 380.6,475.9 386.2,478.8 391.9,487.6" fill="none" stroke="#8c8c8c" stroke-width="0.9"/>
<circle cx="302.1" cy="477.8" r="1.9" fill="#efefef" stroke="#a0a0a0" stroke-width="0.8"/>
<circle cx="307.7" cy="479.0" r="1.9" fill="#efefef" stroke="#a0a0a0" stroke-width="0.8"/>
<circle cx="313.3" cy="481.4" r="1.9" fill="#efefef" stroke="#a0a0a0" stroke-width="0.8"/>
<circle cx="318.9" cy="483.7" r="1.9" fill="#efefef" stroke="#a0a0a0" stroke-width="0.8"/>
<circle cx="324.5" cy="485.3" r="1.9" fill="#efefef" stroke="#a0a0a0" stroke-width="0.8"/>
<circle cx="330.2" cy="484.9" r="1.9" fill="#efefef" stroke="#a0a0a0" stroke-width="0.8"/>
<circle cx="335.8" cy="485.7" r="1.9" fill="#efefef" stroke="#a0a0a0" stroke-width="0.8"/>
<circle cx="341.4" cy="483.3" r="1.9" fill="#efefef" stroke="#a0a0a0" stroke-width="0.8"/>
<circle cx="347.0" cy="478.4" r="1.9" fill="#efefef" stroke="#a0a0a0" stroke-width="0.8"/>
<circle cx="352.6" cy="482.9" r="1.9" fill="#efefef" stroke="#a0a0a0" stroke-width="0.8"/>
<circle cx="358.2" cy="478.8" r="1.9" fill="#efefef" stroke="#a0a0a0" stroke-width="0.8"/>
<circle cx="363.8" cy="475.9" r="1.9" fill="#efefef" stroke="#a0a0a0" stroke-width="0.8"/>
<circle cx="369.4" cy="475.1" r="1.9" fill="#efefef" stroke="#a0a0a0" stroke-width="0.8"/>
<circle cx="375.0" cy="475.5" r="1.9" fill="#efefef" stroke="#a0a0a0" stroke-width="0.8"/>
<circle cx="380.6" cy="475.9" r="1.9" fill="#efefef" stroke="#a0a0a0" stroke-width="0.8"/>
<circle cx="386.2" cy="478.8" r="1.9" fill="#efefef" stroke="#a0a0a0" stroke-width="0.8"/>
<circle cx="391.9" cy="487.6" r="1.9" fill="#efefef" stroke="#a0a0a0" stroke-width="0.8"/>
<line x1="320.5" y1="505.0" x2="339.2" y2="505.0" stroke="#858585" stroke-width="0.8"/>
<circle cx="329.9" cy="505.0" r="1.9" fill="#fff" stroke="#9a9a9a" stroke-width="0.8"/>
<text x="342.0" y="507.9" font-size="8.8" textLength="10.6" lengthAdjust="spacingAndGlyphs" font-style="italic" stroke-width="0.38">TE</text>
<rect x="321.1" y="511.2" width="17.5" height="8.2" fill="#dcdcdc"/>
<text x="342.0" y="517.7" font-size="8.8" textLength="26.5" lengthAdjust="spacingAndGlyphs" stroke-width="0.38">95% CI</text>
<rect x="298.5" y="452.5" width="96.4" height="67.3" fill="none" stroke="#a8a8a8" stroke-width="0.8"/>
<line x1="298.5" y1="452.6" x2="300.5" y2="452.6" stroke="#a8a8a8" stroke-width="0.7"/>
<text x="296.5" y="455.5" font-size="8.4" text-anchor="end" textLength="15.3" lengthAdjust="spacingAndGlyphs" stroke-width="0.38">1.12</text>
<line x1="298.5" y1="465.9" x2="300.5" y2="465.9" stroke="#a8a8a8" stroke-width="0.7"/>
<text x="296.5" y="468.8" font-size="8.4" text-anchor="end" textLength="15.3" lengthAdjust="spacingAndGlyphs" stroke-width="0.38">1.04</text>
<line x1="298.5" y1="479.3" x2="300.5" y2="479.3" stroke="#a8a8a8" stroke-width="0.7"/>
<text x="296.5" y="482.2" font-size="8.4" text-anchor="end" textLength="15.3" lengthAdjust="spacingAndGlyphs" stroke-width="0.38">0.96</text>
<line x1="298.5" y1="492.8" x2="300.5" y2="492.8" stroke="#a8a8a8" stroke-width="0.7"/>
<text x="296.5" y="495.7" font-size="8.4" text-anchor="end" textLength="15.3" lengthAdjust="spacingAndGlyphs" stroke-width="0.38">0.88</text>
<line x1="298.5" y1="506.2" x2="300.5" y2="506.2" stroke="#a8a8a8" stroke-width="0.7"/>
<text x="296.5" y="509.1" font-size="8.4" text-anchor="end" textLength="15.3" lengthAdjust="spacingAndGlyphs" stroke-width="0.38">0.80</text>
<line x1="298.5" y1="519.6" x2="300.5" y2="519.6" stroke="#a8a8a8" stroke-width="0.7"/>
<text x="296.5" y="522.5" font-size="8.4" text-anchor="end" textLength="15.3" lengthAdjust="spacingAndGlyphs" stroke-width="0.38">0.72</text>
<line x1="302.1" y1="519.8" x2="302.1" y2="517.8" stroke="#a8a8a8" stroke-width="0.7"/>
<line x1="302.1" y1="452.5" x2="302.1" y2="454.1" stroke="#a8a8a8" stroke-width="0.6"/>
<line x1="307.7" y1="519.8" x2="307.7" y2="518.6" stroke="#a8a8a8" stroke-width="0.7"/>
<line x1="307.7" y1="452.5" x2="307.7" y2="453.5" stroke="#a8a8a8" stroke-width="0.6"/>
<line x1="313.3" y1="519.8" x2="313.3" y2="518.6" stroke="#a8a8a8" stroke-width="0.7"/>
<line x1="313.3" y1="452.5" x2="313.3" y2="453.5" stroke="#a8a8a8" stroke-width="0.6"/>
<line x1="318.9" y1="519.8" x2="318.9" y2="518.6" stroke="#a8a8a8" stroke-width="0.7"/>
<line x1="318.9" y1="452.5" x2="318.9" y2="453.5" stroke="#a8a8a8" stroke-width="0.6"/>
<line x1="324.5" y1="519.8" x2="324.5" y2="517.8" stroke="#a8a8a8" stroke-width="0.7"/>
<line x1="324.5" y1="452.5" x2="324.5" y2="454.1" stroke="#a8a8a8" stroke-width="0.6"/>
<line x1="330.2" y1="519.8" x2="330.2" y2="518.6" stroke="#a8a8a8" stroke-width="0.7"/>
<line x1="330.2" y1="452.5" x2="330.2" y2="453.5" stroke="#a8a8a8" stroke-width="0.6"/>
<line x1="335.8" y1="519.8" x2="335.8" y2="518.6" stroke="#a8a8a8" stroke-width="0.7"/>
<line x1="335.8" y1="452.5" x2="335.8" y2="453.5" stroke="#a8a8a8" stroke-width="0.6"/>
<line x1="341.4" y1="519.8" x2="341.4" y2="518.6" stroke="#a8a8a8" stroke-width="0.7"/>
<line x1="341.4" y1="452.5" x2="341.4" y2="453.5" stroke="#a8a8a8" stroke-width="0.6"/>
<line x1="347.0" y1="519.8" x2="347.0" y2="517.8" stroke="#a8a8a8" stroke-width="0.7"/>
<line x1="347.0" y1="452.5" x2="347.0" y2="454.1" stroke="#a8a8a8" stroke-width="0.6"/>
<line x1="352.6" y1="519.8" x2="352.6" y2="518.6" stroke="#a8a8a8" stroke-width="0.7"/>
<line x1="352.6" y1="452.5" x2="352.6" y2="453.5" stroke="#a8a8a8" stroke-width="0.6"/>
<line x1="358.2" y1="519.8" x2="358.2" y2="518.6" stroke="#a8a8a8" stroke-width="0.7"/>
<line x1="358.2" y1="452.5" x2="358.2" y2="453.5" stroke="#a8a8a8" stroke-width="0.6"/>
<line x1="363.8" y1="519.8" x2="363.8" y2="518.6" stroke="#a8a8a8" stroke-width="0.7"/>
<line x1="363.8" y1="452.5" x2="363.8" y2="453.5" stroke="#a8a8a8" stroke-width="0.6"/>
<line x1="369.4" y1="519.8" x2="369.4" y2="517.8" stroke="#a8a8a8" stroke-width="0.7"/>
<line x1="369.4" y1="452.5" x2="369.4" y2="454.1" stroke="#a8a8a8" stroke-width="0.6"/>
<line x1="375.0" y1="519.8" x2="375.0" y2="518.6" stroke="#a8a8a8" stroke-width="0.7"/>
<line x1="375.0" y1="452.5" x2="375.0" y2="453.5" stroke="#a8a8a8" stroke-width="0.6"/>
<line x1="380.6" y1="519.8" x2="380.6" y2="518.6" stroke="#a8a8a8" stroke-width="0.7"/>
<line x1="380.6" y1="452.5" x2="380.6" y2="453.5" stroke="#a8a8a8" stroke-width="0.6"/>
<line x1="386.2" y1="519.8" x2="386.2" y2="518.6" stroke="#a8a8a8" stroke-width="0.7"/>
<line x1="386.2" y1="452.5" x2="386.2" y2="453.5" stroke="#a8a8a8" stroke-width="0.6"/>
<line x1="391.9" y1="519.8" x2="391.9" y2="517.8" stroke="#a8a8a8" stroke-width="0.7"/>
<line x1="391.9" y1="452.5" x2="391.9" y2="454.1" stroke="#a8a8a8" stroke-width="0.6"/>
<text x="302.1" y="528.1" font-size="8.3" text-anchor="middle" textLength="17.2" lengthAdjust="spacingAndGlyphs" stroke-width="0.38">2000</text>
<text x="324.5" y="528.1" font-size="8.3" text-anchor="middle" textLength="17.2" lengthAdjust="spacingAndGlyphs" stroke-width="0.38">2004</text>
<text x="347.0" y="528.1" font-size="8.3" text-anchor="middle" textLength="17.2" lengthAdjust="spacingAndGlyphs" stroke-width="0.38">2008</text>
<text x="369.4" y="528.1" font-size="8.3" text-anchor="middle" textLength="17.2" lengthAdjust="spacingAndGlyphs" stroke-width="0.38">2012</text>
<text x="391.9" y="528.1" font-size="8.3" text-anchor="middle" textLength="17.2" lengthAdjust="spacingAndGlyphs" stroke-width="0.38">2016</text>
<text x="278.0" y="481.0" font-size="10.4" text-anchor="middle" textLength="81.0" lengthAdjust="spacingAndGlyphs" stroke-width="0.38" transform="rotate(-90 278.0 481.0)">TE(The Northeast)</text>
<text x="346.3" y="543.0" font-size="10.3" text-anchor="middle" textLength="21.5" lengthAdjust="spacingAndGlyphs" stroke-width="0.38">Year</text>
<polyline points="429.3,393.3 435.0,384.5 440.7,368.8 446.3,372.7 452.0,381.9 457.7,383.5 463.4,381.9 469.1,394.9 474.7,419.8 480.4,413.9 486.1,419.2 491.8,420.4 497.5,420.4 503.1,416.5 508.8,411.0 514.5,409.4 520.2,409.4" fill="none" stroke="#3a3a3a" stroke-width="0.9"/>
<rect x="427.7" y="391.7" width="3.2" height="3.2" fill="#fff" stroke="#808080" stroke-width="0.8"/>
<rect x="433.4" y="382.9" width="3.2" height="3.2" fill="#fff" stroke="#808080" stroke-width="0.8"/>
<rect x="439.0" y="367.2" width="3.2" height="3.2" fill="#fff" stroke="#808080" stroke-width="0.8"/>
<rect x="444.7" y="371.1" width="3.2" height="3.2" fill="#fff" stroke="#808080" stroke-width="0.8"/>
<rect x="450.4" y="380.3" width="3.2" height="3.2" fill="#fff" stroke="#808080" stroke-width="0.8"/>
<rect x="456.1" y="381.9" width="3.2" height="3.2" fill="#fff" stroke="#808080" stroke-width="0.8"/>
<rect x="461.8" y="380.3" width="3.2" height="3.2" fill="#fff" stroke="#808080" stroke-width="0.8"/>
<rect x="467.4" y="393.3" width="3.2" height="3.2" fill="#fff" stroke="#808080" stroke-width="0.8"/>
<rect x="473.1" y="418.2" width="3.2" height="3.2" fill="#fff" stroke="#808080" stroke-width="0.8"/>
<rect x="478.8" y="412.3" width="3.2" height="3.2" fill="#fff" stroke="#808080" stroke-width="0.8"/>
<rect x="484.5" y="417.6" width="3.2" height="3.2" fill="#fff" stroke="#808080" stroke-width="0.8"/>
<rect x="490.2" y="418.8" width="3.2" height="3.2" fill="#fff" stroke="#808080" stroke-width="0.8"/>
<rect x="495.8" y="418.8" width="3.2" height="3.2" fill="#fff" stroke="#808080" stroke-width="0.8"/>
<rect x="501.5" y="414.9" width="3.2" height="3.2" fill="#fff" stroke="#808080" stroke-width="0.8"/>
<rect x="507.2" y="409.4" width="3.2" height="3.2" fill="#fff" stroke="#808080" stroke-width="0.8"/>
<rect x="512.9" y="407.8" width="3.2" height="3.2" fill="#fff" stroke="#808080" stroke-width="0.8"/>
<rect x="518.6" y="407.8" width="3.2" height="3.2" fill="#fff" stroke="#808080" stroke-width="0.8"/>
<polyline points="429.3,414.9 435.0,408.6 440.7,405.1 446.3,397.8 452.0,402.7 457.7,390.4 463.4,403.1 469.1,409.4 474.7,418.5 480.4,414.9 486.1,419.2 491.8,420.4 497.5,420.4 503.1,421.2 508.8,420.4 514.5,414.9 520.2,411.4" fill="none" stroke="#3a3a3a" stroke-width="0.9"/>
<circle cx="429.3" cy="414.9" r="1.75" fill="#fff" stroke="#808080" stroke-width="0.8"/>
<circle cx="435.0" cy="408.6" r="1.75" fill="#fff" stroke="#808080" stroke-width="0.8"/>
<circle cx="440.7" cy="405.1" r="1.75" fill="#fff" stroke="#808080" stroke-width="0.8"/>
<circle cx="446.3" cy="397.8" r="1.75" fill="#fff" stroke="#808080" stroke-width="0.8"/>
<circle cx="452.0" cy="402.7" r="1.75" fill="#fff" stroke="#808080" stroke-width="0.8"/>
<circle cx="457.7" cy="390.4" r="1.75" fill="#fff" stroke="#808080" stroke-width="0.8"/>
<circle cx="463.4" cy="403.1" r="1.75" fill="#fff" stroke="#808080" stroke-width="0.8"/>
<circle cx="469.1" cy="409.4" r="1.75" fill="#fff" stroke="#808080" stroke-width="0.8"/>
<circle cx="474.7" cy="418.5" r="1.75" fill="#fff" stroke="#808080" stroke-width="0.8"/>
<circle cx="480.4" cy="414.9" r="1.75" fill="#fff" stroke="#808080" stroke-width="0.8"/>
<circle cx="486.1" cy="419.2" r="1.75" fill="#fff" stroke="#808080" stroke-width="0.8"/>
<circle cx="491.8" cy="420.4" r="1.75" fill="#fff" stroke="#808080" stroke-width="0.8"/>
<circle cx="497.5" cy="420.4" r="1.75" fill="#fff" stroke="#808080" stroke-width="0.8"/>
<circle cx="503.1" cy="421.2" r="1.75" fill="#fff" stroke="#808080" stroke-width="0.8"/>
<circle cx="508.8" cy="420.4" r="1.75" fill="#fff" stroke="#808080" stroke-width="0.8"/>
<circle cx="514.5" cy="414.9" r="1.75" fill="#fff" stroke="#808080" stroke-width="0.8"/>
<circle cx="520.2" cy="411.4" r="1.75" fill="#fff" stroke="#808080" stroke-width="0.8"/>
<line x1="450.4" y1="369.2" x2="469.0" y2="369.2" stroke="#444" stroke-width="0.8"/>
<rect x="458.2" y="367.6" width="3.2" height="3.2" fill="#fff" stroke="#808080" stroke-width="0.8"/>
<text x="472.0" y="372.2" font-size="8.8" textLength="10.6" lengthAdjust="spacingAndGlyphs" stroke-width="0.38">CV</text>
<line x1="450.4" y1="379.0" x2="469.0" y2="379.0" stroke="#444" stroke-width="0.8"/>
<circle cx="459.8" cy="379.0" r="1.75" fill="#fff" stroke="#808080" stroke-width="0.8"/>
<text x="472.0" y="382.2" font-size="8.8" textLength="43.8" lengthAdjust="spacingAndGlyphs" stroke-width="0.38">Roubust CV</text>
<rect x="426.5" y="363.3" width="96.0" height="66.7" fill="none" stroke="#a8a8a8" stroke-width="0.8"/>
<line x1="426.5" y1="369.9" x2="428.5" y2="369.9" stroke="#a8a8a8" stroke-width="0.7"/>
<text x="424.5" y="372.8" font-size="8.4" text-anchor="end" textLength="15.3" lengthAdjust="spacingAndGlyphs" stroke-width="0.38">0.08</text>
<line x1="426.5" y1="383.2" x2="428.5" y2="383.2" stroke="#a8a8a8" stroke-width="0.7"/>
<text x="424.5" y="386.1" font-size="8.4" text-anchor="end" textLength="15.3" lengthAdjust="spacingAndGlyphs" stroke-width="0.38">0.06</text>
<line x1="426.5" y1="396.5" x2="428.5" y2="396.5" stroke="#a8a8a8" stroke-width="0.7"/>
<text x="424.5" y="399.4" font-size="8.4" text-anchor="end" textLength="15.3" lengthAdjust="spacingAndGlyphs" stroke-width="0.38">0.04</text>
<line x1="426.5" y1="409.8" x2="428.5" y2="409.8" stroke="#a8a8a8" stroke-width="0.7"/>
<text x="424.5" y="412.7" font-size="8.4" text-anchor="end" textLength="15.3" lengthAdjust="spacingAndGlyphs" stroke-width="0.38">0.02</text>
<line x1="426.5" y1="423.0" x2="428.5" y2="423.0" stroke="#a8a8a8" stroke-width="0.7"/>
<text x="424.5" y="425.9" font-size="8.4" text-anchor="end" textLength="15.3" lengthAdjust="spacingAndGlyphs" stroke-width="0.38">0.00</text>
<line x1="429.3" y1="430.0" x2="429.3" y2="428.0" stroke="#a8a8a8" stroke-width="0.7"/>
<line x1="429.3" y1="363.3" x2="429.3" y2="364.9" stroke="#a8a8a8" stroke-width="0.6"/>
<line x1="435.0" y1="430.0" x2="435.0" y2="428.8" stroke="#a8a8a8" stroke-width="0.7"/>
<line x1="435.0" y1="363.3" x2="435.0" y2="364.3" stroke="#a8a8a8" stroke-width="0.6"/>
<line x1="440.7" y1="430.0" x2="440.7" y2="428.8" stroke="#a8a8a8" stroke-width="0.7"/>
<line x1="440.7" y1="363.3" x2="440.7" y2="364.3" stroke="#a8a8a8" stroke-width="0.6"/>
<line x1="446.3" y1="430.0" x2="446.3" y2="428.8" stroke="#a8a8a8" stroke-width="0.7"/>
<line x1="446.3" y1="363.3" x2="446.3" y2="364.3" stroke="#a8a8a8" stroke-width="0.6"/>
<line x1="452.0" y1="430.0" x2="452.0" y2="428.0" stroke="#a8a8a8" stroke-width="0.7"/>
<line x1="452.0" y1="363.3" x2="452.0" y2="364.9" stroke="#a8a8a8" stroke-width="0.6"/>
<line x1="457.7" y1="430.0" x2="457.7" y2="428.8" stroke="#a8a8a8" stroke-width="0.7"/>
<line x1="457.7" y1="363.3" x2="457.7" y2="364.3" stroke="#a8a8a8" stroke-width="0.6"/>
<line x1="463.4" y1="430.0" x2="463.4" y2="428.8" stroke="#a8a8a8" stroke-width="0.7"/>
<line x1="463.4" y1="363.3" x2="463.4" y2="364.3" stroke="#a8a8a8" stroke-width="0.6"/>
<line x1="469.1" y1="430.0" x2="469.1" y2="428.8" stroke="#a8a8a8" stroke-width="0.7"/>
<line x1="469.1" y1="363.3" x2="469.1" y2="364.3" stroke="#a8a8a8" stroke-width="0.6"/>
<line x1="474.7" y1="430.0" x2="474.7" y2="428.0" stroke="#a8a8a8" stroke-width="0.7"/>
<line x1="474.7" y1="363.3" x2="474.7" y2="364.9" stroke="#a8a8a8" stroke-width="0.6"/>
<line x1="480.4" y1="430.0" x2="480.4" y2="428.8" stroke="#a8a8a8" stroke-width="0.7"/>
<line x1="480.4" y1="363.3" x2="480.4" y2="364.3" stroke="#a8a8a8" stroke-width="0.6"/>
<line x1="486.1" y1="430.0" x2="486.1" y2="428.8" stroke="#a8a8a8" stroke-width="0.7"/>
<line x1="486.1" y1="363.3" x2="486.1" y2="364.3" stroke="#a8a8a8" stroke-width="0.6"/>
<line x1="491.8" y1="430.0" x2="491.8" y2="428.8" stroke="#a8a8a8" stroke-width="0.7"/>
<line x1="491.8" y1="363.3" x2="491.8" y2="364.3" stroke="#a8a8a8" stroke-width="0.6"/>
<line x1="497.5" y1="430.0" x2="497.5" y2="428.0" stroke="#a8a8a8" stroke-width="0.7"/>
<line x1="497.5" y1="363.3" x2="497.5" y2="364.9" stroke="#a8a8a8" stroke-width="0.6"/>
<line x1="503.1" y1="430.0" x2="503.1" y2="428.8" stroke="#a8a8a8" stroke-width="0.7"/>
<line x1="503.1" y1="363.3" x2="503.1" y2="364.3" stroke="#a8a8a8" stroke-width="0.6"/>
<line x1="508.8" y1="430.0" x2="508.8" y2="428.8" stroke="#a8a8a8" stroke-width="0.7"/>
<line x1="508.8" y1="363.3" x2="508.8" y2="364.3" stroke="#a8a8a8" stroke-width="0.6"/>
<line x1="514.5" y1="430.0" x2="514.5" y2="428.8" stroke="#a8a8a8" stroke-width="0.7"/>
<line x1="514.5" y1="363.3" x2="514.5" y2="364.3" stroke="#a8a8a8" stroke-width="0.6"/>
<line x1="520.2" y1="430.0" x2="520.2" y2="428.0" stroke="#a8a8a8" stroke-width="0.7"/>
<line x1="520.2" y1="363.3" x2="520.2" y2="364.9" stroke="#a8a8a8" stroke-width="0.6"/>
<text x="429.3" y="438.9" font-size="8.3" text-anchor="middle" textLength="17.2" lengthAdjust="spacingAndGlyphs" stroke-width="0.38">2000</text>
<text x="452.0" y="438.9" font-size="8.3" text-anchor="middle" textLength="17.2" lengthAdjust="spacingAndGlyphs" stroke-width="0.38">2004</text>
<text x="474.7" y="438.9" font-size="8.3" text-anchor="middle" textLength="17.2" lengthAdjust="spacingAndGlyphs" stroke-width="0.38">2008</text>
<text x="497.5" y="438.9" font-size="8.3" text-anchor="middle" textLength="17.2" lengthAdjust="spacingAndGlyphs" stroke-width="0.38">2012</text>
<text x="520.2" y="438.9" font-size="8.3" text-anchor="middle" textLength="17.2" lengthAdjust="spacingAndGlyphs" stroke-width="0.38">2016</text>
<text x="404.3" y="396.8" font-size="8.8" text-anchor="middle" textLength="62.0" lengthAdjust="spacingAndGlyphs" stroke-width="0.38" transform="rotate(-90 404.3 396.8)">CV (The Central)</text>
<polyline points="429.3,503.9 435.0,501.0 440.7,486.9 446.3,482.9 452.0,460.8 457.7,471.6 463.4,468.6 469.1,472.5 474.7,497.1 480.4,489.6 486.1,505.9 491.8,510.8 497.5,509.8 503.1,508.5 508.8,506.9 514.5,492.2 520.2,472.1" fill="none" stroke="#3a3a3a" stroke-width="0.9"/>
<rect x="427.7" y="502.3" width="3.2" height="3.2" fill="#fff" stroke="#808080" stroke-width="0.8"/>
<rect x="433.4" y="499.4" width="3.2" height="3.2" fill="#fff" stroke="#808080" stroke-width="0.8"/>
<rect x="439.0" y="485.2" width="3.2" height="3.2" fill="#fff" stroke="#808080" stroke-width="0.8"/>
<rect x="444.7" y="481.3" width="3.2" height="3.2" fill="#fff" stroke="#808080" stroke-width="0.8"/>
<rect x="450.4" y="459.1" width="3.2" height="3.2" fill="#fff" stroke="#808080" stroke-width="0.8"/>
<rect x="456.1" y="469.9" width="3.2" height="3.2" fill="#fff" stroke="#808080" stroke-width="0.8"/>
<rect x="461.8" y="467.0" width="3.2" height="3.2" fill="#fff" stroke="#808080" stroke-width="0.8"/>
<rect x="467.4" y="470.9" width="3.2" height="3.2" fill="#fff" stroke="#808080" stroke-width="0.8"/>
<rect x="473.1" y="495.4" width="3.2" height="3.2" fill="#fff" stroke="#808080" stroke-width="0.8"/>
<rect x="478.8" y="488.0" width="3.2" height="3.2" fill="#fff" stroke="#808080" stroke-width="0.8"/>
<rect x="484.5" y="504.3" width="3.2" height="3.2" fill="#fff" stroke="#808080" stroke-width="0.8"/>
<rect x="490.2" y="509.2" width="3.2" height="3.2" fill="#fff" stroke="#808080" stroke-width="0.8"/>
<rect x="495.8" y="508.2" width="3.2" height="3.2" fill="#fff" stroke="#808080" stroke-width="0.8"/>
<rect x="501.5" y="506.8" width="3.2" height="3.2" fill="#fff" stroke="#808080" stroke-width="0.8"/>
<rect x="507.2" y="505.3" width="3.2" height="3.2" fill="#fff" stroke="#808080" stroke-width="0.8"/>
<rect x="512.9" y="490.5" width="3.2" height="3.2" fill="#fff" stroke="#808080" stroke-width="0.8"/>
<rect x="518.6" y="470.5" width="3.2" height="3.2" fill="#fff" stroke="#808080" stroke-width="0.8"/>
<polyline points="429.3,503.9 435.0,504.9 440.7,494.1 446.3,492.2 452.0,492.2 457.7,472.1 463.4,469.2 469.1,497.5 474.7,504.9 480.4,493.5 486.1,507.9 491.8,510.8 497.5,510.4 503.1,511.8 508.8,511.8 514.5,508.8 520.2,489.6" fill="none" stroke="#3a3a3a" stroke-width="0.9"/>
<circle cx="429.3" cy="503.9" r="1.75" fill="#fff" stroke="#808080" stroke-width="0.8"/>
<circle cx="435.0" cy="504.9" r="1.75" fill="#fff" stroke="#808080" stroke-width="0.8"/>
<circle cx="440.7" cy="494.1" r="1.75" fill="#fff" stroke="#808080" stroke-width="0.8"/>
<circle cx="446.3" cy="492.2" r="1.75" fill="#fff" stroke="#808080" stroke-width="0.8"/>
<circle cx="452.0" cy="492.2" r="1.75" fill="#fff" stroke="#808080" stroke-width="0.8"/>
<circle cx="457.7" cy="472.1" r="1.75" fill="#fff" stroke="#808080" stroke-width="0.8"/>
<circle cx="463.4" cy="469.2" r="1.75" fill="#fff" stroke="#808080" stroke-width="0.8"/>
<circle cx="469.1" cy="497.5" r="1.75" fill="#fff" stroke="#808080" stroke-width="0.8"/>
<circle cx="474.7" cy="504.9" r="1.75" fill="#fff" stroke="#808080" stroke-width="0.8"/>
<circle cx="480.4" cy="493.5" r="1.75" fill="#fff" stroke="#808080" stroke-width="0.8"/>
<circle cx="486.1" cy="507.9" r="1.75" fill="#fff" stroke="#808080" stroke-width="0.8"/>
<circle cx="491.8" cy="510.8" r="1.75" fill="#fff" stroke="#808080" stroke-width="0.8"/>
<circle cx="497.5" cy="510.4" r="1.75" fill="#fff" stroke="#808080" stroke-width="0.8"/>
<circle cx="503.1" cy="511.8" r="1.75" fill="#fff" stroke="#808080" stroke-width="0.8"/>
<circle cx="508.8" cy="511.8" r="1.75" fill="#fff" stroke="#808080" stroke-width="0.8"/>
<circle cx="514.5" cy="508.8" r="1.75" fill="#fff" stroke="#808080" stroke-width="0.8"/>
<circle cx="520.2" cy="489.6" r="1.75" fill="#fff" stroke="#808080" stroke-width="0.8"/>
<line x1="451.4" y1="458.8" x2="470.0" y2="458.8" stroke="#444" stroke-width="0.8"/>
<rect x="459.0" y="457.2" width="3.2" height="3.2" fill="#fff" stroke="#808080" stroke-width="0.8"/>
<text x="472.6" y="461.8" font-size="8.8" textLength="10.6" lengthAdjust="spacingAndGlyphs" stroke-width="0.38">CV</text>
<line x1="451.4" y1="468.6" x2="470.0" y2="468.6" stroke="#444" stroke-width="0.8"/>
<circle cx="460.6" cy="468.6" r="1.75" fill="#fff" stroke="#808080" stroke-width="0.8"/>
<text x="472.6" y="471.8" font-size="8.8" textLength="39.3" lengthAdjust="spacingAndGlyphs" stroke-width="0.38">Robust CV</text>
<rect x="426.5" y="452.5" width="96.0" height="67.3" fill="none" stroke="#a8a8a8" stroke-width="0.8"/>
<line x1="426.5" y1="459.6" x2="428.5" y2="459.6" stroke="#a8a8a8" stroke-width="0.7"/>
<text x="424.5" y="462.5" font-size="8.4" text-anchor="end" textLength="15.3" lengthAdjust="spacingAndGlyphs" stroke-width="0.38">0.08</text>
<line x1="426.5" y1="473.2" x2="428.5" y2="473.2" stroke="#a8a8a8" stroke-width="0.7"/>
<text x="424.5" y="476.1" font-size="8.4" text-anchor="end" textLength="15.3" lengthAdjust="spacingAndGlyphs" stroke-width="0.38">0.06</text>
<line x1="426.5" y1="486.5" x2="428.5" y2="486.5" stroke="#a8a8a8" stroke-width="0.7"/>
<text x="424.5" y="489.4" font-size="8.4" text-anchor="end" textLength="15.3" lengthAdjust="spacingAndGlyphs" stroke-width="0.38">0.04</text>
<line x1="426.5" y1="499.6" x2="428.5" y2="499.6" stroke="#a8a8a8" stroke-width="0.7"/>
<text x="424.5" y="502.5" font-size="8.4" text-anchor="end" textLength="15.3" lengthAdjust="spacingAndGlyphs" stroke-width="0.38">0.02</text>
<line x1="426.5" y1="512.7" x2="428.5" y2="512.7" stroke="#a8a8a8" stroke-width="0.7"/>
<text x="424.5" y="515.6" font-size="8.4" text-anchor="end" textLength="15.3" lengthAdjust="spacingAndGlyphs" stroke-width="0.38">0.00</text>
<line x1="429.3" y1="519.8" x2="429.3" y2="517.8" stroke="#a8a8a8" stroke-width="0.7"/>
<line x1="429.3" y1="452.5" x2="429.3" y2="454.1" stroke="#a8a8a8" stroke-width="0.6"/>
<line x1="435.0" y1="519.8" x2="435.0" y2="518.6" stroke="#a8a8a8" stroke-width="0.7"/>
<line x1="435.0" y1="452.5" x2="435.0" y2="453.5" stroke="#a8a8a8" stroke-width="0.6"/>
<line x1="440.7" y1="519.8" x2="440.7" y2="518.6" stroke="#a8a8a8" stroke-width="0.7"/>
<line x1="440.7" y1="452.5" x2="440.7" y2="453.5" stroke="#a8a8a8" stroke-width="0.6"/>
<line x1="446.3" y1="519.8" x2="446.3" y2="518.6" stroke="#a8a8a8" stroke-width="0.7"/>
<line x1="446.3" y1="452.5" x2="446.3" y2="453.5" stroke="#a8a8a8" stroke-width="0.6"/>
<line x1="452.0" y1="519.8" x2="452.0" y2="517.8" stroke="#a8a8a8" stroke-width="0.7"/>
<line x1="452.0" y1="452.5" x2="452.0" y2="454.1" stroke="#a8a8a8" stroke-width="0.6"/>
<line x1="457.7" y1="519.8" x2="457.7" y2="518.6" stroke="#a8a8a8" stroke-width="0.7"/>
<line x1="457.7" y1="452.5" x2="457.7" y2="453.5" stroke="#a8a8a8" stroke-width="0.6"/>
<line x1="463.4" y1="519.8" x2="463.4" y2="518.6" stroke="#a8a8a8" stroke-width="0.7"/>
<line x1="463.4" y1="452.5" x2="463.4" y2="453.5" stroke="#a8a8a8" stroke-width="0.6"/>
<line x1="469.1" y1="519.8" x2="469.1" y2="518.6" stroke="#a8a8a8" stroke-width="0.7"/>
<line x1="469.1" y1="452.5" x2="469.1" y2="453.5" stroke="#a8a8a8" stroke-width="0.6"/>
<line x1="474.7" y1="519.8" x2="474.7" y2="517.8" stroke="#a8a8a8" stroke-width="0.7"/>
<line x1="474.7" y1="452.5" x2="474.7" y2="454.1" stroke="#a8a8a8" stroke-width="0.6"/>
<line x1="480.4" y1="519.8" x2="480.4" y2="518.6" stroke="#a8a8a8" stroke-width="0.7"/>
<line x1="480.4" y1="452.5" x2="480.4" y2="453.5" stroke="#a8a8a8" stroke-width="0.6"/>
<line x1="486.1" y1="519.8" x2="486.1" y2="518.6" stroke="#a8a8a8" stroke-width="0.7"/>
<line x1="486.1" y1="452.5" x2="486.1" y2="453.5" stroke="#a8a8a8" stroke-width="0.6"/>
<line x1="491.8" y1="519.8" x2="491.8" y2="518.6" stroke="#a8a8a8" stroke-width="0.7"/>
<line x1="491.8" y1="452.5" x2="491.8" y2="453.5" stroke="#a8a8a8" stroke-width="0.6"/>
<line x1="497.5" y1="519.8" x2="497.5" y2="517.8" stroke="#a8a8a8" stroke-width="0.7"/>
<line x1="497.5" y1="452.5" x2="497.5" y2="454.1" stroke="#a8a8a8" stroke-width="0.6"/>
<line x1="503.1" y1="519.8" x2="503.1" y2="518.6" stroke="#a8a8a8" stroke-width="0.7"/>
<line x1="503.1" y1="452.5" x2="503.1" y2="453.5" stroke="#a8a8a8" stroke-width="0.6"/>
<line x1="508.8" y1="519.8" x2="508.8" y2="518.6" stroke="#a8a8a8" stroke-width="0.7"/>
<line x1="508.8" y1="452.5" x2="508.8" y2="453.5" stroke="#a8a8a8" stroke-width="0.6"/>
<line x1="514.5" y1="519.8" x2="514.5" y2="518.6" stroke="#a8a8a8" stroke-width="0.7"/>
<line x1="514.5" y1="452.5" x2="514.5" y2="453.5" stroke="#a8a8a8" stroke-width="0.6"/>
<line x1="520.2" y1="519.8" x2="520.2" y2="517.8" stroke="#a8a8a8" stroke-width="0.7"/>
<line x1="520.2" y1="452.5" x2="520.2" y2="454.1" stroke="#a8a8a8" stroke-width="0.6"/>
<text x="429.3" y="528.1" font-size="8.3" text-anchor="middle" textLength="17.2" lengthAdjust="spacingAndGlyphs" stroke-width="0.38">2000</text>
<text x="452.0" y="528.1" font-size="8.3" text-anchor="middle" textLength="17.2" lengthAdjust="spacingAndGlyphs" stroke-width="0.38">2004</text>
<text x="474.7" y="528.1" font-size="8.3" text-anchor="middle" textLength="17.2" lengthAdjust="spacingAndGlyphs" stroke-width="0.38">2008</text>
<text x="497.5" y="528.1" font-size="8.3" text-anchor="middle" textLength="17.2" lengthAdjust="spacingAndGlyphs" stroke-width="0.38">2012</text>
<text x="520.2" y="528.1" font-size="8.3" text-anchor="middle" textLength="17.2" lengthAdjust="spacingAndGlyphs" stroke-width="0.38">2016</text>
<text x="404.9" y="485.8" font-size="8.8" text-anchor="middle" textLength="71.0" lengthAdjust="spacingAndGlyphs" stroke-width="0.38" transform="rotate(-90 404.9 485.8)">CV (The Northeast)</text>
<text x="474.8" y="543.0" font-size="10.3" text-anchor="middle" textLength="21.5" lengthAdjust="spacingAndGlyphs" stroke-width="0.38">Year</text>
</svg>
</body></html>
